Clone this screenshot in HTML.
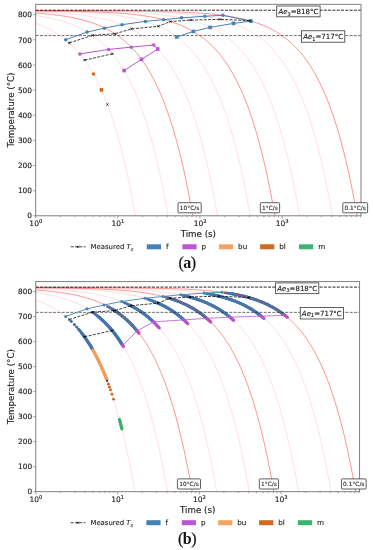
<!DOCTYPE html>
<html><head><meta charset="utf-8"><title>CCT diagram</title>
<style>html,body{margin:0;padding:0;background:#fff}svg{display:block}</style></head>
<body>
<svg width="373" height="550" viewBox="0 0 373 550" font-family='"DejaVu Sans","Liberation Sans",sans-serif'>
<rect width="373" height="550" fill="#fff"/>
<clipPath id="clipa"><rect x="35.7" y="4.3" width="325.3" height="211.5"/></clipPath>

<g clip-path="url(#clipa)">
<polyline points="35.70,23.15 36.33,23.37 36.95,23.60 37.58,23.83 38.21,24.07 38.84,24.30 39.46,24.55 40.09,24.80 40.72,25.05 41.34,25.30 41.97,25.57 42.60,25.83 43.23,26.10 43.85,26.38 44.48,26.66 45.11,26.94 45.74,27.23 46.36,27.53 46.99,27.83 47.62,28.13 48.24,28.45 48.87,28.76 49.50,29.08 50.13,29.41 50.75,29.75 51.38,30.09 52.01,30.43 52.63,30.78 53.26,31.14 53.89,31.51 54.52,31.88 55.14,32.26 55.77,32.64 56.40,33.03 57.03,33.43 57.65,33.83 58.28,34.25 58.91,34.67 59.53,35.09 60.16,35.53 60.79,35.97 61.42,36.42 62.04,36.88 62.67,37.35 63.30,37.82 63.92,38.30 64.55,38.80 65.18,39.30 65.81,39.80 66.43,40.32 67.06,40.85 67.69,41.39 68.31,41.93 68.94,42.49 69.57,43.06 70.20,43.63 70.82,44.22 71.45,44.81 72.08,45.42 72.71,46.04 73.33,46.67 73.96,47.31 74.59,47.96 75.21,48.62 75.84,49.30 76.47,49.98 77.10,50.68 77.72,51.39 78.35,52.12 78.98,52.85 79.60,53.60 80.23,54.37 80.86,55.14 81.49,55.93 82.11,56.74 82.74,57.56 83.37,58.39 84.00,59.24 84.62,60.10 85.25,60.98 85.88,61.87 86.50,62.78 87.13,63.71 87.76,64.65 88.39,65.61 89.01,66.58 89.64,67.58 90.27,68.59 90.89,69.62 91.52,70.66 92.15,71.73 92.78,72.81 93.40,73.92 94.03,75.04 94.66,76.18 95.28,77.35 95.91,78.53 96.54,79.74 97.17,80.96 97.79,82.21 98.42,83.48 99.05,84.77 99.68,86.09 100.30,87.43 100.93,88.79 101.56,90.18 102.18,91.59 102.81,93.03 103.44,94.49 104.07,95.98 104.69,97.49 105.32,99.03 105.95,100.60 106.57,102.20 107.20,103.82 107.83,105.48 108.46,107.16 109.08,108.87 109.71,110.62 110.34,112.39 110.96,114.20 111.59,116.03 112.22,117.90 112.85,119.81 113.47,121.75 114.10,123.72 114.73,125.72 115.36,127.77 115.98,129.84 116.61,131.96 117.24,134.11 117.86,136.30 118.49,138.53 119.12,140.80 119.75,143.11 120.37,145.46 121.00,147.85 121.63,150.29 122.25,152.77 122.88,155.29 123.51,157.85 124.14,160.47 124.76,163.12 125.39,165.83 126.02,168.58 126.65,171.38 127.27,174.24 127.90,177.14 128.53,180.09 129.15,183.10 129.78,186.16 130.41,189.27 131.04,192.44 131.66,195.67 132.29,198.95 132.92,202.29 133.54,205.69 134.17,209.15 134.80,212.67 135.43,216.26 136.05,219.90" fill="none" stroke="#ff4a4a" stroke-opacity="0.33" stroke-width="0.55"/>
<polyline points="35.70,15.61 36.53,15.73 37.36,15.85 38.19,15.97 39.03,16.10 39.86,16.23 40.69,16.36 41.52,16.50 42.35,16.64 43.18,16.78 44.02,16.93 44.85,17.08 45.68,17.23 46.51,17.39 47.34,17.55 48.17,17.71 49.00,17.88 49.84,18.05 50.67,18.23 51.50,18.41 52.33,18.60 53.16,18.78 53.99,18.98 54.83,19.18 55.66,19.38 56.49,19.59 57.32,19.80 58.15,20.01 58.98,20.24 59.81,20.46 60.65,20.70 61.48,20.94 62.31,21.18 63.14,21.43 63.97,21.69 64.80,21.95 65.63,22.22 66.47,22.49 67.30,22.77 68.13,23.06 68.96,23.35 69.79,23.65 70.62,23.96 71.46,24.28 72.29,24.60 73.12,24.93 73.95,25.27 74.78,25.62 75.61,25.97 76.44,26.33 77.28,26.70 78.11,27.08 78.94,27.47 79.77,27.87 80.60,28.28 81.43,28.70 82.27,29.12 83.10,29.56 83.93,30.01 84.76,30.47 85.59,30.94 86.42,31.42 87.25,31.91 88.09,32.41 88.92,32.92 89.75,33.45 90.58,33.99 91.41,34.54 92.24,35.11 93.08,35.69 93.91,36.28 94.74,36.88 95.57,37.50 96.40,38.14 97.23,38.79 98.06,39.45 98.90,40.13 99.73,40.83 100.56,41.54 101.39,42.27 102.22,43.02 103.05,43.79 103.89,44.57 104.72,45.37 105.55,46.19 106.38,47.03 107.21,47.89 108.04,48.77 108.87,49.67 109.71,50.59 110.54,51.53 111.37,52.50 112.20,53.49 113.03,54.50 113.86,55.54 114.69,56.60 115.53,57.68 116.36,58.79 117.19,59.93 118.02,61.09 118.85,62.28 119.68,63.50 120.52,64.75 121.35,66.03 122.18,67.34 123.01,68.67 123.84,70.04 124.67,71.45 125.50,72.88 126.34,74.35 127.17,75.85 128.00,77.39 128.83,78.97 129.66,80.58 130.49,82.23 131.33,83.92 132.16,85.65 132.99,87.42 133.82,89.23 134.65,91.09 135.48,92.98 136.31,94.93 137.15,96.92 137.98,98.95 138.81,101.04 139.64,103.17 140.47,105.35 141.30,107.59 142.14,109.87 142.97,112.22 143.80,114.61 144.63,117.06 145.46,119.58 146.29,122.15 147.12,124.78 147.96,127.47 148.79,130.23 149.62,133.05 150.45,135.93 151.28,138.89 152.11,141.92 152.95,145.01 153.78,148.18 154.61,151.43 155.44,154.75 156.27,158.15 157.10,161.63 157.93,165.19 158.77,168.84 159.60,172.57 160.43,176.39 161.26,180.30 162.09,184.30 162.92,188.39 163.75,192.59 164.59,196.88 165.42,201.27 166.25,205.77 167.08,210.37 167.91,215.08 168.74,219.90" fill="none" stroke="#ff4a4a" stroke-opacity="0.33" stroke-width="0.55"/>
<polyline points="35.70,13.10 36.69,13.17 37.67,13.24 38.66,13.31 39.64,13.39 40.63,13.47 41.62,13.55 42.60,13.63 43.59,13.72 44.57,13.81 45.56,13.90 46.55,13.99 47.53,14.09 48.52,14.18 49.51,14.28 50.49,14.39 51.48,14.49 52.46,14.60 53.45,14.72 54.44,14.83 55.42,14.95 56.41,15.07 57.39,15.20 58.38,15.33 59.37,15.46 60.35,15.60 61.34,15.74 62.32,15.88 63.31,16.03 64.30,16.19 65.28,16.34 66.27,16.50 67.25,16.67 68.24,16.84 69.23,17.02 70.21,17.20 71.20,17.38 72.19,17.57 73.17,17.77 74.16,17.97 75.14,18.18 76.13,18.39 77.12,18.61 78.10,18.83 79.09,19.06 80.07,19.30 81.06,19.55 82.05,19.80 83.03,20.06 84.02,20.32 85.00,20.59 85.99,20.87 86.98,21.16 87.96,21.46 88.95,21.76 89.93,22.08 90.92,22.40 91.91,22.73 92.89,23.07 93.88,23.42 94.87,23.78 95.85,24.15 96.84,24.53 97.82,24.92 98.81,25.32 99.80,25.74 100.78,26.16 101.77,26.60 102.75,27.05 103.74,27.51 104.73,27.98 105.71,28.47 106.70,28.97 107.68,29.49 108.67,30.02 109.66,30.56 110.64,31.12 111.63,31.70 112.61,32.29 113.60,32.90 114.59,33.52 115.57,34.16 116.56,34.82 117.55,35.50 118.53,36.20 119.52,36.92 120.50,37.66 121.49,38.42 122.48,39.20 123.46,40.00 124.45,40.82 125.43,41.67 126.42,42.54 127.41,43.44 128.39,44.36 129.38,45.30 130.36,46.28 131.35,47.28 132.34,48.31 133.32,49.36 134.31,50.45 135.29,51.57 136.28,52.72 137.27,53.90 138.25,55.11 139.24,56.36 140.23,57.64 141.21,58.96 142.20,60.31 143.18,61.71 144.17,63.14 145.16,64.61 146.14,66.13 147.13,67.69 148.11,69.29 149.10,70.93 150.09,72.62 151.07,74.36 152.06,76.15 153.04,77.98 154.03,79.87 155.02,81.82 156.00,83.81 156.99,85.86 157.97,87.97 158.96,90.14 159.95,92.37 160.93,94.66 161.92,97.02 162.91,99.44 163.89,101.93 164.88,104.49 165.86,107.13 166.85,109.83 167.84,112.61 168.82,115.47 169.81,118.41 170.79,121.43 171.78,124.54 172.77,127.73 173.75,131.02 174.74,134.39 175.72,137.86 176.71,141.43 177.70,145.09 178.68,148.86 179.67,152.74 180.65,156.72 181.64,160.82 182.63,165.03 183.61,169.36 184.60,173.81 185.59,178.38 186.57,183.08 187.56,187.92 188.54,192.89 189.53,198.00 190.52,203.25 191.50,208.65 192.49,214.20 193.47,219.90" fill="none" stroke="#ff3030" stroke-opacity="0.74" stroke-width="0.7"/>
<polyline points="35.70,11.84 36.84,11.88 37.98,11.92 39.12,11.97 40.26,12.01 41.40,12.06 42.54,12.11 43.68,12.16 44.83,12.21 45.97,12.26 47.11,12.31 48.25,12.37 49.39,12.43 50.53,12.49 51.67,12.55 52.81,12.61 53.95,12.68 55.09,12.75 56.23,12.82 57.37,12.89 58.51,12.97 59.65,13.04 60.79,13.12 61.93,13.21 63.08,13.29 64.22,13.38 65.36,13.47 66.50,13.56 67.64,13.66 68.78,13.76 69.92,13.86 71.06,13.97 72.20,14.08 73.34,14.19 74.48,14.31 75.62,14.43 76.76,14.56 77.90,14.69 79.04,14.82 80.19,14.96 81.33,15.10 82.47,15.24 83.61,15.40 84.75,15.55 85.89,15.71 87.03,15.88 88.17,16.05 89.31,16.23 90.45,16.41 91.59,16.60 92.73,16.80 93.87,17.00 95.01,17.21 96.15,17.42 97.29,17.65 98.44,17.88 99.58,18.11 100.72,18.36 101.86,18.61 103.00,18.87 104.14,19.14 105.28,19.42 106.42,19.71 107.56,20.00 108.70,20.31 109.84,20.62 110.98,20.95 112.12,21.29 113.26,21.63 114.40,21.99 115.55,22.36 116.69,22.75 117.83,23.14 118.97,23.55 120.11,23.97 121.25,24.41 122.39,24.86 123.53,25.32 124.67,25.80 125.81,26.29 126.95,26.80 128.09,27.33 129.23,27.87 130.37,28.43 131.51,29.01 132.65,29.61 133.80,30.23 134.94,30.87 136.08,31.53 137.22,32.21 138.36,32.91 139.50,33.64 140.64,34.39 141.78,35.16 142.92,35.96 144.06,36.78 145.20,37.63 146.34,38.51 147.48,39.42 148.62,40.36 149.76,41.32 150.91,42.32 152.05,43.35 153.19,44.42 154.33,45.52 155.47,46.65 156.61,47.82 157.75,49.03 158.89,50.28 160.03,51.57 161.17,52.91 162.31,54.28 163.45,55.70 164.59,57.17 165.73,58.68 166.87,60.24 168.01,61.85 169.16,63.52 170.30,65.24 171.44,67.02 172.58,68.85 173.72,70.74 174.86,72.70 176.00,74.71 177.14,76.80 178.28,78.95 179.42,81.17 180.56,83.46 181.70,85.83 182.84,88.28 183.98,90.80 185.12,93.41 186.27,96.10 187.41,98.88 188.55,101.74 189.69,104.71 190.83,107.76 191.97,110.92 193.11,114.18 194.25,117.55 195.39,121.02 196.53,124.61 197.67,128.31 198.81,132.14 199.95,136.09 201.09,140.16 202.23,144.37 203.37,148.72 204.52,153.21 205.66,157.84 206.80,162.63 207.94,167.56 209.08,172.66 210.22,177.93 211.36,183.37 212.50,188.98 213.64,194.78 214.78,200.76 215.92,206.94 217.06,213.32 218.20,219.90" fill="none" stroke="#ff4a4a" stroke-opacity="0.33" stroke-width="0.55"/>
<polyline points="35.70,11.09 37.04,11.11 38.39,11.13 39.73,11.15 41.08,11.17 42.42,11.19 43.77,11.21 45.11,11.24 46.46,11.26 47.80,11.29 49.15,11.32 50.49,11.34 51.84,11.37 53.18,11.40 54.53,11.44 55.87,11.47 57.22,11.50 58.56,11.54 59.91,11.57 61.25,11.61 62.60,11.65 63.94,11.69 65.29,11.74 66.63,11.78 67.98,11.83 69.32,11.87 70.67,11.92 72.01,11.97 73.36,12.03 74.70,12.08 76.05,12.14 77.39,12.20 78.74,12.26 80.08,12.33 81.43,12.39 82.77,12.46 84.12,12.54 85.46,12.61 86.81,12.69 88.15,12.77 89.50,12.85 90.84,12.94 92.19,13.03 93.53,13.13 94.88,13.22 96.22,13.33 97.57,13.43 98.91,13.54 100.26,13.65 101.60,13.77 102.95,13.89 104.29,14.02 105.64,14.15 106.98,14.29 108.33,14.43 109.67,14.58 111.02,14.73 112.36,14.89 113.71,15.06 115.05,15.23 116.40,15.41 117.74,15.60 119.09,15.79 120.43,15.99 121.78,16.20 123.12,16.41 124.47,16.63 125.81,16.87 127.16,17.11 128.50,17.36 129.85,17.62 131.19,17.89 132.54,18.17 133.88,18.46 135.23,18.76 136.57,19.08 137.92,19.41 139.26,19.74 140.61,20.10 141.95,20.46 143.30,20.84 144.64,21.24 145.99,21.64 147.33,22.07 148.68,22.51 150.02,22.97 151.37,23.44 152.71,23.94 154.06,24.45 155.40,24.98 156.75,25.54 158.09,26.11 159.44,26.71 160.78,27.33 162.13,27.97 163.47,28.64 164.82,29.33 166.16,30.05 167.51,30.80 168.85,31.58 170.20,32.39 171.54,33.22 172.89,34.09 174.23,35.00 175.58,35.93 176.92,36.91 178.27,37.92 179.61,38.97 180.96,40.06 182.30,41.19 183.65,42.37 184.99,43.59 186.34,44.86 187.68,46.17 189.03,47.54 190.37,48.96 191.72,50.43 193.06,51.97 194.41,53.56 195.75,55.21 197.10,56.92 198.44,58.70 199.79,60.55 201.13,62.47 202.48,64.46 203.82,66.53 205.17,68.68 206.51,70.91 207.86,73.23 209.20,75.64 210.55,78.14 211.89,80.73 213.24,83.43 214.58,86.23 215.93,89.13 217.27,92.15 218.61,95.28 219.96,98.54 221.30,101.92 222.65,105.43 223.99,109.07 225.34,112.85 226.68,116.78 228.03,120.86 229.37,125.10 230.72,129.50 232.06,134.07 233.41,138.81 234.75,143.74 236.10,148.85 237.44,154.16 238.79,159.68 240.13,165.41 241.48,171.35 242.82,177.53 244.17,183.94 245.51,190.60 246.86,197.52 248.20,204.70 249.55,212.16 250.89,219.90" fill="none" stroke="#ff4a4a" stroke-opacity="0.33" stroke-width="0.55"/>
<polyline points="35.70,10.83 37.20,10.85 38.70,10.86 40.20,10.87 41.70,10.88 43.20,10.89 44.70,10.91 46.20,10.92 47.70,10.94 49.20,10.95 50.70,10.97 52.19,10.98 53.69,11.00 55.19,11.02 56.69,11.04 58.19,11.06 59.69,11.08 61.19,11.10 62.69,11.12 64.19,11.14 65.69,11.17 67.19,11.19 68.69,11.22 70.19,11.24 71.69,11.27 73.19,11.30 74.69,11.33 76.19,11.37 77.69,11.40 79.19,11.43 80.69,11.47 82.19,11.51 83.68,11.55 85.18,11.59 86.68,11.63 88.18,11.68 89.68,11.72 91.18,11.77 92.68,11.82 94.18,11.88 95.68,11.93 97.18,11.99 98.68,12.05 100.18,12.12 101.68,12.18 103.18,12.25 104.68,12.32 106.18,12.40 107.68,12.47 109.18,12.55 110.68,12.64 112.18,12.73 113.68,12.82 115.17,12.92 116.67,13.02 118.17,13.12 119.67,13.23 121.17,13.34 122.67,13.46 124.17,13.58 125.67,13.71 127.17,13.85 128.67,13.99 130.17,14.13 131.67,14.29 133.17,14.44 134.67,14.61 136.17,14.78 137.67,14.96 139.17,15.15 140.67,15.35 142.17,15.55 143.67,15.77 145.17,15.99 146.66,16.22 148.16,16.46 149.66,16.71 151.16,16.98 152.66,17.25 154.16,17.54 155.66,17.84 157.16,18.15 158.66,18.47 160.16,18.81 161.66,19.16 163.16,19.53 164.66,19.92 166.16,20.32 167.66,20.74 169.16,21.17 170.66,21.63 172.16,22.10 173.66,22.59 175.16,23.11 176.66,23.65 178.15,24.21 179.65,24.79 181.15,25.40 182.65,26.04 184.15,26.70 185.65,27.39 187.15,28.12 188.65,28.87 190.15,29.65 191.65,30.47 193.15,31.33 194.65,32.22 196.15,33.15 197.65,34.11 199.15,35.12 200.65,36.18 202.15,37.28 203.65,38.42 205.15,39.62 206.65,40.86 208.15,42.16 209.64,43.52 211.14,44.93 212.64,46.41 214.14,47.94 215.64,49.55 217.14,51.22 218.64,52.97 220.14,54.78 221.64,56.68 223.14,58.66 224.64,60.72 226.14,62.88 227.64,65.12 229.14,67.46 230.64,69.90 232.14,72.45 233.64,75.11 235.14,77.88 236.64,80.76 238.14,83.78 239.64,86.92 241.13,90.20 242.63,93.61 244.13,97.18 245.63,100.89 247.13,104.77 248.63,108.81 250.13,113.03 251.63,117.43 253.13,122.02 254.63,126.80 256.13,131.79 257.63,136.99 259.13,142.42 260.63,148.08 262.13,153.98 263.63,160.13 265.13,166.55 266.63,173.25 268.13,180.23 269.63,187.51 271.13,195.11 272.62,203.03 274.12,211.29 275.62,219.90" fill="none" stroke="#ff3030" stroke-opacity="0.74" stroke-width="0.7"/>
<polyline points="35.70,10.71 37.35,10.72 39.01,10.72 40.66,10.73 42.32,10.73 43.97,10.74 45.62,10.75 47.28,10.76 48.93,10.77 50.59,10.77 52.24,10.78 53.89,10.79 55.55,10.80 57.20,10.81 58.86,10.82 60.51,10.84 62.17,10.85 63.82,10.86 65.47,10.87 67.13,10.89 68.78,10.90 70.44,10.92 72.09,10.93 73.74,10.95 75.40,10.97 77.05,10.98 78.71,11.00 80.36,11.02 82.01,11.04 83.67,11.07 85.32,11.09 86.98,11.11 88.63,11.14 90.28,11.16 91.94,11.19 93.59,11.22 95.25,11.25 96.90,11.28 98.56,11.32 100.21,11.35 101.86,11.39 103.52,11.42 105.17,11.46 106.83,11.51 108.48,11.55 110.13,11.60 111.79,11.64 113.44,11.69 115.10,11.75 116.75,11.80 118.40,11.86 120.06,11.92 121.71,11.98 123.37,12.05 125.02,12.12 126.67,12.19 128.33,12.27 129.98,12.35 131.64,12.43 133.29,12.52 134.94,12.61 136.60,12.71 138.25,12.81 139.91,12.92 141.56,13.03 143.22,13.14 144.87,13.26 146.52,13.39 148.18,13.52 149.83,13.66 151.49,13.81 153.14,13.96 154.79,14.12 156.45,14.29 158.10,14.47 159.76,14.65 161.41,14.84 163.06,15.05 164.72,15.26 166.37,15.48 168.03,15.71 169.68,15.96 171.33,16.21 172.99,16.48 174.64,16.76 176.30,17.05 177.95,17.36 179.61,17.68 181.26,18.02 182.91,18.37 184.57,18.74 186.22,19.12 187.88,19.53 189.53,19.95 191.18,20.40 192.84,20.86 194.49,21.35 196.15,21.86 197.80,22.40 199.45,22.96 201.11,23.55 202.76,24.16 204.42,24.81 206.07,25.48 207.72,26.19 209.38,26.93 211.03,27.70 212.69,28.52 214.34,29.37 216.00,30.26 217.65,31.19 219.30,32.17 220.96,33.20 222.61,34.27 224.27,35.39 225.92,36.57 227.57,37.80 229.23,39.09 230.88,40.45 232.54,41.86 234.19,43.35 235.84,44.90 237.50,46.53 239.15,48.24 240.81,50.03 242.46,51.90 244.11,53.86 245.77,55.91 247.42,58.06 249.08,60.31 250.73,62.67 252.38,65.15 254.04,67.74 255.69,70.45 257.35,73.29 259.00,76.26 260.66,79.38 262.31,82.65 263.96,86.07 265.62,89.65 267.27,93.40 268.93,97.33 270.58,101.45 272.23,105.76 273.89,110.27 275.54,115.00 277.20,119.96 278.85,125.15 280.50,130.59 282.16,136.28 283.81,142.25 285.47,148.49 287.12,155.04 288.77,161.89 290.43,169.07 292.08,176.59 293.74,184.47 295.39,192.72 297.05,201.37 298.70,210.42 300.35,219.90" fill="none" stroke="#ff4a4a" stroke-opacity="0.33" stroke-width="0.55"/>
<polyline points="35.70,10.63 37.56,10.64 39.42,10.64 41.28,10.64 43.13,10.65 44.99,10.65 46.85,10.65 48.71,10.66 50.57,10.66 52.43,10.66 54.28,10.67 56.14,10.67 58.00,10.68 59.86,10.68 61.72,10.69 63.58,10.69 65.43,10.70 67.29,10.71 69.15,10.71 71.01,10.72 72.87,10.73 74.73,10.73 76.58,10.74 78.44,10.75 80.30,10.76 82.16,10.77 84.02,10.78 85.88,10.79 87.74,10.80 89.59,10.81 91.45,10.82 93.31,10.84 95.17,10.85 97.03,10.86 98.89,10.88 100.74,10.89 102.60,10.91 104.46,10.93 106.32,10.95 108.18,10.97 110.04,10.99 111.89,11.01 113.75,11.03 115.61,11.06 117.47,11.08 119.33,11.11 121.19,11.14 123.04,11.16 124.90,11.20 126.76,11.23 128.62,11.26 130.48,11.30 132.34,11.34 134.20,11.38 136.05,11.42 137.91,11.47 139.77,11.51 141.63,11.56 143.49,11.61 145.35,11.67 147.20,11.73 149.06,11.79 150.92,11.85 152.78,11.92 154.64,11.99 156.50,12.07 158.35,12.15 160.21,12.23 162.07,12.32 163.93,12.41 165.79,12.51 167.65,12.61 169.50,12.72 171.36,12.84 173.22,12.96 175.08,13.08 176.94,13.22 178.80,13.36 180.66,13.51 182.51,13.66 184.37,13.83 186.23,14.00 188.09,14.18 189.95,14.38 191.81,14.58 193.66,14.79 195.52,15.02 197.38,15.25 199.24,15.50 201.10,15.77 202.96,16.04 204.81,16.34 206.67,16.64 208.53,16.97 210.39,17.31 212.25,17.67 214.11,18.05 215.96,18.45 217.82,18.87 219.68,19.31 221.54,19.78 223.40,20.27 225.26,20.79 227.12,21.33 228.97,21.91 230.83,22.51 232.69,23.15 234.55,23.82 236.41,24.53 238.27,25.28 240.12,26.06 241.98,26.89 243.84,27.76 245.70,28.68 247.56,29.65 249.42,30.67 251.27,31.74 253.13,32.87 254.99,34.06 256.85,35.32 258.71,36.64 260.57,38.03 262.42,39.50 264.28,41.05 266.14,42.68 268.00,44.39 269.86,46.20 271.72,48.11 273.58,50.11 275.43,52.23 277.29,54.45 279.15,56.80 281.01,59.27 282.87,61.87 284.73,64.61 286.58,67.50 288.44,70.55 290.30,73.75 292.16,77.13 294.02,80.69 295.88,84.44 297.73,88.39 299.59,92.55 301.45,96.93 303.31,101.55 305.17,106.41 307.03,111.53 308.88,116.93 310.74,122.62 312.60,128.61 314.46,134.92 316.32,141.57 318.18,148.57 320.04,155.95 321.89,163.72 323.75,171.91 325.61,180.53 327.47,189.62 329.33,199.20 331.19,209.28 333.04,219.90" fill="none" stroke="#ff4a4a" stroke-opacity="0.33" stroke-width="0.55"/>
<polyline points="35.70,10.61 37.71,10.61 39.73,10.61 41.74,10.61 43.75,10.61 45.76,10.62 47.78,10.62 49.79,10.62 51.80,10.62 53.82,10.63 55.83,10.63 57.84,10.63 59.86,10.63 61.87,10.64 63.88,10.64 65.89,10.64 67.91,10.65 69.92,10.65 71.93,10.65 73.95,10.66 75.96,10.66 77.97,10.67 79.99,10.67 82.00,10.68 84.01,10.68 86.02,10.69 88.04,10.69 90.05,10.70 92.06,10.71 94.08,10.71 96.09,10.72 98.10,10.73 100.11,10.74 102.13,10.75 104.14,10.75 106.15,10.76 108.17,10.78 110.18,10.79 112.19,10.80 114.21,10.81 116.22,10.82 118.23,10.84 120.24,10.85 122.26,10.87 124.27,10.88 126.28,10.90 128.30,10.92 130.31,10.94 132.32,10.96 134.34,10.98 136.35,11.01 138.36,11.03 140.37,11.06 142.39,11.08 144.40,11.11 146.41,11.14 148.43,11.18 150.44,11.21 152.45,11.25 154.46,11.28 156.48,11.33 158.49,11.37 160.50,11.41 162.52,11.46 164.53,11.51 166.54,11.57 168.56,11.62 170.57,11.68 172.58,11.75 174.59,11.82 176.61,11.89 178.62,11.96 180.63,12.04 182.65,12.13 184.66,12.22 186.67,12.31 188.69,12.41 190.70,12.52 192.71,12.63 194.72,12.75 196.74,12.88 198.75,13.01 200.76,13.15 202.78,13.30 204.79,13.46 206.80,13.62 208.81,13.80 210.83,13.99 212.84,14.19 214.85,14.39 216.87,14.62 218.88,14.85 220.89,15.10 222.91,15.36 224.92,15.64 226.93,15.93 228.94,16.24 230.96,16.57 232.97,16.92 234.98,17.28 237.00,17.67 239.01,18.08 241.02,18.52 243.03,18.98 245.05,19.47 247.06,19.98 249.07,20.53 251.09,21.11 253.10,21.72 255.11,22.36 257.13,23.05 259.14,23.77 261.15,24.54 263.16,25.35 265.18,26.20 267.19,27.11 269.20,28.07 271.22,29.08 273.23,30.16 275.24,31.29 277.26,32.49 279.27,33.77 281.28,35.11 283.29,36.54 285.31,38.04 287.32,39.64 289.33,41.32 291.35,43.11 293.36,44.99 295.37,46.99 297.38,49.11 299.40,51.34 301.41,53.71 303.42,56.21 305.44,58.86 307.45,61.66 309.46,64.63 311.48,67.76 313.49,71.08 315.50,74.59 317.51,78.31 319.53,82.24 321.54,86.40 323.55,90.80 325.57,95.45 327.58,100.38 329.59,105.59 331.61,111.11 333.62,116.94 335.63,123.11 337.64,129.65 339.66,136.56 341.67,143.87 343.68,151.61 345.70,159.79 347.71,168.45 349.72,177.62 351.73,187.31 353.75,197.57 355.76,208.42 357.77,219.90" fill="none" stroke="#ff3030" stroke-opacity="0.74" stroke-width="0.7"/>
<line x1="35.7" x2="361.0" y1="10.21" y2="10.21" stroke="#111" stroke-width="0.9" stroke-dasharray="3.0 1.3"/>
<line x1="35.7" x2="361.0" y1="35.59" y2="35.59" stroke="#333" stroke-width="0.7" stroke-dasharray="3.0 1.3"/>
</g>
<polyline points="65.70,39.74 87.10,32.07 104.30,28.18 122.10,24.66 145.40,21.39 163.60,19.63 181.50,17.87 204.80,16.24 222.90,15.36 251.00,21.14 233.50,23.40 210.10,27.42 193.30,31.44 176.70,36.97" fill="none" stroke="#4682b4" stroke-width="1.0" stroke-linejoin="round"/>
<circle cx="65.70" cy="39.74" r="1.75" fill="#4682b4"/>
<circle cx="87.10" cy="32.07" r="1.75" fill="#4682b4"/>
<circle cx="104.30" cy="28.18" r="1.75" fill="#4682b4"/>
<circle cx="122.10" cy="24.66" r="1.75" fill="#4682b4"/>
<circle cx="145.40" cy="21.39" r="1.75" fill="#4682b4"/>
<circle cx="163.60" cy="19.63" r="1.75" fill="#4682b4"/>
<circle cx="181.50" cy="17.87" r="1.75" fill="#4682b4"/>
<circle cx="204.80" cy="16.24" r="1.75" fill="#4682b4"/>
<circle cx="222.90" cy="15.36" r="1.75" fill="#4682b4"/>
<rect x="249.20" y="19.34" width="3.6" height="3.6" fill="#4682b4"/>
<rect x="231.70" y="21.60" width="3.6" height="3.6" fill="#4682b4"/>
<rect x="208.30" y="25.62" width="3.6" height="3.6" fill="#4682b4"/>
<rect x="191.50" y="29.64" width="3.6" height="3.6" fill="#4682b4"/>
<rect x="174.90" y="35.17" width="3.6" height="3.6" fill="#4682b4"/>
<polyline points="79.88,53.94 108.64,49.41 131.23,47.15 153.81,45.02 157.75,49.04 141.49,59.34 124.13,70.53" fill="none" stroke="#ba55d3" stroke-width="1.0" stroke-linejoin="round"/>
<circle cx="79.88" cy="53.94" r="1.75" fill="#ba55d3"/>
<circle cx="108.64" cy="49.41" r="1.75" fill="#ba55d3"/>
<circle cx="131.23" cy="47.15" r="1.75" fill="#ba55d3"/>
<circle cx="153.81" cy="45.02" r="1.75" fill="#ba55d3"/>
<rect x="155.95" y="47.24" width="3.6" height="3.6" fill="#ba55d3"/>
<rect x="139.69" y="57.54" width="3.6" height="3.6" fill="#ba55d3"/>
<rect x="122.33" y="68.73" width="3.6" height="3.6" fill="#ba55d3"/>
<circle cx="93.48" cy="74.05" r="1.8" fill="#d2691e"/>
<rect x="99.62" y="88.08" width="3.6" height="3.6" fill="#d2691e"/>
<polyline points="69.20,42.88 92.70,35.34 114.80,33.83 131.50,28.93 158.40,26.29 170.30,21.52 190.60,20.13 220.10,19.38 250.10,20.64" fill="none" stroke="#111" stroke-width="0.8" stroke-dasharray="3.0 1.3" stroke-linejoin="round"/>
<polyline points="84.62,60.10 112.47,53.81" fill="none" stroke="#111" stroke-width="0.8" stroke-dasharray="3.0 1.3" stroke-linejoin="round"/>
<path d="M68.15 41.83L70.25 43.93M68.15 43.93L70.25 41.83" stroke="#000" stroke-width="0.8" fill="none"/>
<path d="M91.65 34.29L93.75 36.39M91.65 36.39L93.75 34.29" stroke="#000" stroke-width="0.8" fill="none"/>
<path d="M113.75 32.78L115.85 34.88M113.75 34.88L115.85 32.78" stroke="#000" stroke-width="0.8" fill="none"/>
<path d="M130.45 27.88L132.55 29.98M130.45 29.98L132.55 27.88" stroke="#000" stroke-width="0.8" fill="none"/>
<path d="M157.35 25.24L159.45 27.34M157.35 27.34L159.45 25.24" stroke="#000" stroke-width="0.8" fill="none"/>
<path d="M169.25 20.47L171.35 22.57M169.25 22.57L171.35 20.47" stroke="#000" stroke-width="0.8" fill="none"/>
<path d="M189.55 19.08L191.65 21.18M189.55 21.18L191.65 19.08" stroke="#000" stroke-width="0.8" fill="none"/>
<path d="M219.05 18.33L221.15 20.43M219.05 20.43L221.15 18.33" stroke="#000" stroke-width="0.8" fill="none"/>
<path d="M249.05 19.59L251.15 21.69M249.05 21.69L251.15 19.59" stroke="#000" stroke-width="0.8" fill="none"/>
<path d="M83.57 59.05L85.67 61.15M83.57 61.15L85.67 59.05" stroke="#000" stroke-width="0.8" fill="none"/>
<path d="M111.42 52.76L113.52 54.86M111.42 54.86L113.52 52.76" stroke="#000" stroke-width="0.8" fill="none"/>
<path d="M106.39 103.41L108.49 105.51M106.39 105.51L108.49 103.41" stroke="#000" stroke-width="0.8" fill="none"/>
<rect x="35.7" y="4.3" width="325.3" height="211.5" fill="none" stroke="#727272" stroke-width="0.9"/>
<line x1="32.900000000000006" x2="35.7" y1="215.80" y2="215.80" stroke="#555" stroke-width="0.5"/>
<text x="32.00" y="218.45" text-anchor="end" font-size="7.4" fill="#222" stroke="#222" stroke-width="0.15">0</text>
<line x1="32.900000000000006" x2="35.7" y1="190.67" y2="190.67" stroke="#555" stroke-width="0.5"/>
<text x="32.00" y="193.32" text-anchor="end" font-size="7.4" fill="#222" stroke="#222" stroke-width="0.15">100</text>
<line x1="32.900000000000006" x2="35.7" y1="165.53" y2="165.53" stroke="#555" stroke-width="0.5"/>
<text x="32.00" y="168.18" text-anchor="end" font-size="7.4" fill="#222" stroke="#222" stroke-width="0.15">200</text>
<line x1="32.900000000000006" x2="35.7" y1="140.40" y2="140.40" stroke="#555" stroke-width="0.5"/>
<text x="32.00" y="143.05" text-anchor="end" font-size="7.4" fill="#222" stroke="#222" stroke-width="0.15">300</text>
<line x1="32.900000000000006" x2="35.7" y1="115.27" y2="115.27" stroke="#555" stroke-width="0.5"/>
<text x="32.00" y="117.92" text-anchor="end" font-size="7.4" fill="#222" stroke="#222" stroke-width="0.15">400</text>
<line x1="32.900000000000006" x2="35.7" y1="90.13" y2="90.13" stroke="#555" stroke-width="0.5"/>
<text x="32.00" y="92.78" text-anchor="end" font-size="7.4" fill="#222" stroke="#222" stroke-width="0.15">500</text>
<line x1="32.900000000000006" x2="35.7" y1="65.00" y2="65.00" stroke="#555" stroke-width="0.5"/>
<text x="32.00" y="67.65" text-anchor="end" font-size="7.4" fill="#222" stroke="#222" stroke-width="0.15">600</text>
<line x1="32.900000000000006" x2="35.7" y1="39.86" y2="39.86" stroke="#555" stroke-width="0.5"/>
<text x="32.00" y="42.51" text-anchor="end" font-size="7.4" fill="#222" stroke="#222" stroke-width="0.15">700</text>
<line x1="32.900000000000006" x2="35.7" y1="14.73" y2="14.73" stroke="#555" stroke-width="0.5"/>
<text x="32.00" y="17.38" text-anchor="end" font-size="7.4" fill="#222" stroke="#222" stroke-width="0.15">800</text>
<line x1="35.70" x2="35.70" y1="215.8" y2="218.60000000000002" stroke="#555" stroke-width="0.5"/>
<text x="35.80" y="226.00" text-anchor="middle" font-size="7.5" fill="#222" stroke="#222" stroke-width="0.15">10<tspan dy="-2.9" font-size="5.2">0</tspan></text>
<line x1="60.43" x2="60.43" y1="215.8" y2="217.3" stroke="#555" stroke-width="0.45"/>
<line x1="74.90" x2="74.90" y1="215.8" y2="217.3" stroke="#555" stroke-width="0.45"/>
<line x1="85.16" x2="85.16" y1="215.8" y2="217.3" stroke="#555" stroke-width="0.45"/>
<line x1="93.12" x2="93.12" y1="215.8" y2="217.3" stroke="#555" stroke-width="0.45"/>
<line x1="99.63" x2="99.63" y1="215.8" y2="217.3" stroke="#555" stroke-width="0.45"/>
<line x1="105.12" x2="105.12" y1="215.8" y2="217.3" stroke="#555" stroke-width="0.45"/>
<line x1="109.89" x2="109.89" y1="215.8" y2="217.3" stroke="#555" stroke-width="0.45"/>
<line x1="114.09" x2="114.09" y1="215.8" y2="217.3" stroke="#555" stroke-width="0.45"/>
<line x1="117.85" x2="117.85" y1="215.8" y2="218.60000000000002" stroke="#555" stroke-width="0.5"/>
<text x="117.95" y="226.00" text-anchor="middle" font-size="7.5" fill="#222" stroke="#222" stroke-width="0.15">10<tspan dy="-2.9" font-size="5.2">1</tspan></text>
<line x1="142.58" x2="142.58" y1="215.8" y2="217.3" stroke="#555" stroke-width="0.45"/>
<line x1="157.05" x2="157.05" y1="215.8" y2="217.3" stroke="#555" stroke-width="0.45"/>
<line x1="167.31" x2="167.31" y1="215.8" y2="217.3" stroke="#555" stroke-width="0.45"/>
<line x1="175.27" x2="175.27" y1="215.8" y2="217.3" stroke="#555" stroke-width="0.45"/>
<line x1="181.78" x2="181.78" y1="215.8" y2="217.3" stroke="#555" stroke-width="0.45"/>
<line x1="187.27" x2="187.27" y1="215.8" y2="217.3" stroke="#555" stroke-width="0.45"/>
<line x1="192.04" x2="192.04" y1="215.8" y2="217.3" stroke="#555" stroke-width="0.45"/>
<line x1="196.24" x2="196.24" y1="215.8" y2="217.3" stroke="#555" stroke-width="0.45"/>
<line x1="200.00" x2="200.00" y1="215.8" y2="218.60000000000002" stroke="#555" stroke-width="0.5"/>
<text x="200.10" y="226.00" text-anchor="middle" font-size="7.5" fill="#222" stroke="#222" stroke-width="0.15">10<tspan dy="-2.9" font-size="5.2">2</tspan></text>
<line x1="224.73" x2="224.73" y1="215.8" y2="217.3" stroke="#555" stroke-width="0.45"/>
<line x1="239.20" x2="239.20" y1="215.8" y2="217.3" stroke="#555" stroke-width="0.45"/>
<line x1="249.46" x2="249.46" y1="215.8" y2="217.3" stroke="#555" stroke-width="0.45"/>
<line x1="257.42" x2="257.42" y1="215.8" y2="217.3" stroke="#555" stroke-width="0.45"/>
<line x1="263.93" x2="263.93" y1="215.8" y2="217.3" stroke="#555" stroke-width="0.45"/>
<line x1="269.42" x2="269.42" y1="215.8" y2="217.3" stroke="#555" stroke-width="0.45"/>
<line x1="274.19" x2="274.19" y1="215.8" y2="217.3" stroke="#555" stroke-width="0.45"/>
<line x1="278.39" x2="278.39" y1="215.8" y2="217.3" stroke="#555" stroke-width="0.45"/>
<line x1="282.15" x2="282.15" y1="215.8" y2="218.60000000000002" stroke="#555" stroke-width="0.5"/>
<text x="282.25" y="226.00" text-anchor="middle" font-size="7.5" fill="#222" stroke="#222" stroke-width="0.15">10<tspan dy="-2.9" font-size="5.2">3</tspan></text>
<line x1="306.88" x2="306.88" y1="215.8" y2="217.3" stroke="#555" stroke-width="0.45"/>
<line x1="321.35" x2="321.35" y1="215.8" y2="217.3" stroke="#555" stroke-width="0.45"/>
<line x1="331.61" x2="331.61" y1="215.8" y2="217.3" stroke="#555" stroke-width="0.45"/>
<line x1="339.57" x2="339.57" y1="215.8" y2="217.3" stroke="#555" stroke-width="0.45"/>
<line x1="346.08" x2="346.08" y1="215.8" y2="217.3" stroke="#555" stroke-width="0.45"/>
<line x1="351.57" x2="351.57" y1="215.8" y2="217.3" stroke="#555" stroke-width="0.45"/>
<line x1="356.34" x2="356.34" y1="215.8" y2="217.3" stroke="#555" stroke-width="0.45"/>
<line x1="360.54" x2="360.54" y1="215.8" y2="217.3" stroke="#555" stroke-width="0.45"/>
<text x="198.35" y="237.20" text-anchor="middle" font-size="8.7" fill="#222" stroke="#222" stroke-width="0.15">Time (s)</text>
<text transform="translate(13.6 110.05) rotate(-90)" text-anchor="middle" font-size="8.7" fill="#222" stroke="#222" stroke-width="0.15">Temperature (°C)</text>
<rect x="276.7" y="6.006417112299476" width="43.40" height="10.80" rx="0" fill="#fff" stroke="#2a2a2a" stroke-width="0.75"/>
<text x="298.40" y="13.93" text-anchor="middle" font-size="7.0" fill="#111" stroke="#111" stroke-width="0.1"><tspan font-style="italic">Ae</tspan><tspan dy="1.6" font-size="5">3</tspan><tspan dy="-1.6">=818°C</tspan></text>
<rect x="301.4" y="30.79144385026738" width="43.40" height="11.40" rx="0" fill="#fff" stroke="#2a2a2a" stroke-width="0.75"/>
<text x="323.10" y="39.01" text-anchor="middle" font-size="7.0" fill="#111" stroke="#111" stroke-width="0.1"><tspan font-style="italic">Ae</tspan><tspan dy="1.6" font-size="5">1</tspan><tspan dy="-1.6">=717°C</tspan></text>
<rect x="178.0" y="202.70000000000002" width="23.20" height="10.10" rx="0.8" fill="#fff" stroke="#2a2a2a" stroke-width="0.75"/>
<text x="189.60" y="209.86" text-anchor="middle" font-size="5.85" fill="#111" stroke="#111" stroke-width="0.08">10°C/s</text>
<rect x="260.3" y="202.70000000000002" width="19.30" height="10.10" rx="0.8" fill="#fff" stroke="#2a2a2a" stroke-width="0.75"/>
<text x="269.95" y="209.86" text-anchor="middle" font-size="5.85" fill="#111" stroke="#111" stroke-width="0.08">1°C/s</text>
<rect x="342.8" y="202.70000000000002" width="24.80" height="10.10" rx="0.8" fill="#fff" stroke="#2a2a2a" stroke-width="0.75"/>
<text x="355.20" y="209.86" text-anchor="middle" font-size="5.85" fill="#111" stroke="#111" stroke-width="0.08">0.1°C/s</text>
<line x1="70.7" x2="85.5" y1="246.8" y2="246.8" stroke="#111" stroke-width="0.8" stroke-dasharray="3.0 1.3"/>
<path d="M77.05 245.75L79.15 247.85M77.05 247.85L79.15 245.75" stroke="#000" stroke-width="0.8" fill="none"/>
<text x="90.6" y="249.40" font-size="6.9" fill="#222" stroke="#222" stroke-width="0.12">Measured <tspan font-style="italic">T</tspan><tspan dy="1.5" font-size="5" font-style="italic">s</tspan></text>
<rect x="146.8" y="244.30" width="14.2" height="5" fill="#4682b4"/>
<text x="166.00" y="249.40" font-size="7.2" fill="#222" stroke="#222" stroke-width="0.12">f</text>
<rect x="182.4" y="244.30" width="14.2" height="5" fill="#ba55d3"/>
<text x="201.60" y="249.40" font-size="7.2" fill="#222" stroke="#222" stroke-width="0.12">p</text>
<rect x="218.9" y="244.30" width="14.2" height="5" fill="#f4a460"/>
<text x="238.10" y="249.40" font-size="7.2" fill="#222" stroke="#222" stroke-width="0.12">bu</text>
<rect x="260.1" y="244.30" width="14.2" height="5" fill="#d2691e"/>
<text x="279.30" y="249.40" font-size="7.2" fill="#222" stroke="#222" stroke-width="0.12">bl</text>
<rect x="299.0" y="244.30" width="14.2" height="5" fill="#3cb371"/>
<text x="318.20" y="249.40" font-size="7.2" fill="#222" stroke="#222" stroke-width="0.12">m</text>
<text x="187.0" y="268.40" text-anchor="middle" font-family="'Liberation Serif','DejaVu Serif',serif" font-weight="bold" font-size="16" letter-spacing="-0.55" fill="#151515"><tspan font-weight="normal" stroke="#151515" stroke-width="0.25">(</tspan>a<tspan font-weight="normal" stroke="#151515" stroke-width="0.25">)</tspan></text>
<clipPath id="clipb"><rect x="35.8" y="281.6" width="323.8" height="210.09999999999997"/></clipPath>
<circle cx="71.20" cy="321.37" r="1.55" fill="#3e79b0"/>
<circle cx="74.45" cy="324.62" r="1.55" fill="#3e79b0"/>
<circle cx="76.65" cy="327.00" r="1.55" fill="#3e79b0"/>
<circle cx="78.41" cy="329.00" r="1.55" fill="#3e79b0"/>
<circle cx="79.15" cy="329.88" r="1.55" fill="#3e79b0"/>
<circle cx="80.17" cy="331.11" r="1.55" fill="#3e79b0"/>
<circle cx="80.98" cy="332.11" r="1.55" fill="#3e79b0"/>
<circle cx="81.61" cy="332.92" r="1.55" fill="#3e79b0"/>
<circle cx="82.11" cy="333.57" r="1.55" fill="#3e79b0"/>
<circle cx="82.51" cy="334.09" r="1.55" fill="#3e79b0"/>
<circle cx="82.88" cy="334.57" r="1.55" fill="#3e79b0"/>
<circle cx="83.24" cy="335.05" r="1.55" fill="#3e79b0"/>
<circle cx="83.60" cy="335.54" r="1.55" fill="#3e79b0"/>
<circle cx="83.96" cy="336.02" r="1.55" fill="#3e79b0"/>
<circle cx="84.31" cy="336.51" r="1.55" fill="#3e79b0"/>
<circle cx="84.67" cy="337.00" r="1.55" fill="#3e79b0"/>
<circle cx="85.02" cy="337.49" r="1.55" fill="#3e79b0"/>
<circle cx="85.36" cy="337.98" r="1.55" fill="#3e79b0"/>
<circle cx="85.71" cy="338.48" r="1.55" fill="#3e79b0"/>
<circle cx="86.05" cy="338.97" r="1.55" fill="#3e79b0"/>
<circle cx="86.40" cy="339.47" r="1.55" fill="#3e79b0"/>
<circle cx="86.73" cy="339.97" r="1.55" fill="#3e79b0"/>
<circle cx="87.07" cy="340.47" r="1.55" fill="#3e79b0"/>
<circle cx="87.40" cy="340.97" r="1.55" fill="#3e79b0"/>
<circle cx="87.74" cy="341.47" r="1.55" fill="#3e79b0"/>
<circle cx="88.07" cy="341.98" r="1.55" fill="#3e79b0"/>
<circle cx="88.40" cy="342.48" r="1.55" fill="#3e79b0"/>
<circle cx="88.72" cy="342.99" r="1.55" fill="#3e79b0"/>
<circle cx="89.04" cy="343.50" r="1.55" fill="#3e79b0"/>
<circle cx="89.37" cy="344.01" r="1.55" fill="#3e79b0"/>
<circle cx="89.69" cy="344.52" r="1.55" fill="#3e79b0"/>
<circle cx="90.00" cy="345.03" r="1.55" fill="#3e79b0"/>
<circle cx="90.32" cy="345.54" r="1.55" fill="#3e79b0"/>
<circle cx="90.63" cy="346.06" r="1.55" fill="#3e79b0"/>
<circle cx="90.94" cy="346.58" r="1.55" fill="#3e79b0"/>
<circle cx="91.25" cy="347.09" r="1.55" fill="#3e79b0"/>
<circle cx="91.56" cy="347.61" r="1.55" fill="#3e79b0"/>
<circle cx="91.87" cy="348.13" r="1.55" fill="#3e79b0"/>
<circle cx="92.17" cy="348.65" r="1.55" fill="#3e79b0"/>
<circle cx="92.47" cy="349.18" r="1.55" fill="#3e79b0"/>
<circle cx="92.77" cy="349.70" r="1.55" fill="#3e79b0"/>
<circle cx="93.02" cy="350.14" r="1.55" fill="#f4a460"/>
<circle cx="93.37" cy="350.75" r="1.55" fill="#f4a460"/>
<circle cx="93.66" cy="351.28" r="1.55" fill="#f4a460"/>
<circle cx="93.96" cy="351.81" r="1.55" fill="#f4a460"/>
<circle cx="94.25" cy="352.33" r="1.55" fill="#f4a460"/>
<circle cx="94.54" cy="352.87" r="1.55" fill="#f4a460"/>
<circle cx="94.83" cy="353.40" r="1.55" fill="#f4a460"/>
<circle cx="95.11" cy="353.94" r="1.55" fill="#f4a460"/>
<circle cx="95.40" cy="354.47" r="1.55" fill="#f4a460"/>
<circle cx="95.68" cy="355.01" r="1.55" fill="#f4a460"/>
<circle cx="95.96" cy="355.54" r="1.55" fill="#f4a460"/>
<circle cx="96.24" cy="356.07" r="1.55" fill="#f4a460"/>
<circle cx="96.51" cy="356.61" r="1.55" fill="#f4a460"/>
<circle cx="96.79" cy="357.15" r="1.55" fill="#f4a460"/>
<circle cx="97.06" cy="357.69" r="1.55" fill="#f4a460"/>
<circle cx="97.34" cy="358.23" r="1.55" fill="#f4a460"/>
<circle cx="97.61" cy="358.77" r="1.55" fill="#f4a460"/>
<circle cx="97.87" cy="359.31" r="1.55" fill="#f4a460"/>
<circle cx="98.14" cy="359.86" r="1.55" fill="#f4a460"/>
<circle cx="98.41" cy="360.40" r="1.55" fill="#f4a460"/>
<circle cx="98.67" cy="360.94" r="1.55" fill="#f4a460"/>
<circle cx="98.93" cy="361.48" r="1.55" fill="#f4a460"/>
<circle cx="99.19" cy="362.02" r="1.55" fill="#f4a460"/>
<circle cx="99.45" cy="362.57" r="1.55" fill="#f4a460"/>
<circle cx="99.71" cy="363.12" r="1.55" fill="#f4a460"/>
<circle cx="99.96" cy="363.67" r="1.55" fill="#f4a460"/>
<circle cx="100.22" cy="364.22" r="1.55" fill="#f4a460"/>
<circle cx="100.47" cy="364.76" r="1.55" fill="#f4a460"/>
<circle cx="100.72" cy="365.31" r="1.55" fill="#f4a460"/>
<circle cx="100.97" cy="365.86" r="1.55" fill="#f4a460"/>
<circle cx="101.22" cy="366.41" r="1.55" fill="#f4a460"/>
<circle cx="101.47" cy="366.96" r="1.55" fill="#f4a460"/>
<circle cx="101.71" cy="367.51" r="1.55" fill="#f4a460"/>
<circle cx="101.96" cy="368.06" r="1.55" fill="#f4a460"/>
<circle cx="102.20" cy="368.62" r="1.55" fill="#f4a460"/>
<circle cx="102.44" cy="369.18" r="1.55" fill="#f4a460"/>
<circle cx="102.68" cy="369.73" r="1.55" fill="#f4a460"/>
<circle cx="102.92" cy="370.29" r="1.55" fill="#f4a460"/>
<circle cx="103.16" cy="370.84" r="1.55" fill="#f4a460"/>
<circle cx="103.40" cy="371.40" r="1.55" fill="#f4a460"/>
<circle cx="103.63" cy="371.96" r="1.55" fill="#f4a460"/>
<circle cx="103.86" cy="372.51" r="1.55" fill="#f4a460"/>
<circle cx="104.09" cy="373.07" r="1.55" fill="#f4a460"/>
<circle cx="104.32" cy="373.62" r="1.55" fill="#f4a460"/>
<circle cx="104.55" cy="374.18" r="1.55" fill="#f4a460"/>
<circle cx="104.78" cy="374.74" r="1.55" fill="#f4a460"/>
<circle cx="105.01" cy="375.29" r="1.55" fill="#f4a460"/>
<circle cx="105.23" cy="375.86" r="1.55" fill="#f4a460"/>
<circle cx="105.46" cy="376.42" r="1.55" fill="#f4a460"/>
<circle cx="105.68" cy="376.98" r="1.55" fill="#f4a460"/>
<circle cx="105.91" cy="377.55" r="1.55" fill="#f4a460"/>
<circle cx="106.13" cy="378.11" r="1.55" fill="#f4a460"/>
<circle cx="106.35" cy="378.67" r="1.55" fill="#f4a460"/>
<circle cx="106.57" cy="379.24" r="1.55" fill="#f4a460"/>
<circle cx="108.42" cy="384.15" r="1.45" fill="#d2691e"/>
<circle cx="109.50" cy="387.15" r="1.45" fill="#d2691e"/>
<circle cx="110.47" cy="389.90" r="1.45" fill="#d2691e"/>
<circle cx="111.91" cy="394.15" r="1.45" fill="#d2691e"/>
<circle cx="113.54" cy="399.16" r="1.45" fill="#d2691e"/>
<circle cx="119.46" cy="419.42" r="1.55" fill="#3cb371"/>
<circle cx="119.70" cy="420.29" r="1.55" fill="#3cb371"/>
<circle cx="119.93" cy="421.16" r="1.55" fill="#3cb371"/>
<circle cx="120.16" cy="422.03" r="1.55" fill="#3cb371"/>
<circle cx="120.39" cy="422.90" r="1.55" fill="#3cb371"/>
<circle cx="120.61" cy="423.77" r="1.55" fill="#3cb371"/>
<circle cx="120.84" cy="424.65" r="1.55" fill="#3cb371"/>
<circle cx="121.07" cy="425.52" r="1.55" fill="#3cb371"/>
<circle cx="121.29" cy="426.39" r="1.55" fill="#3cb371"/>
<circle cx="121.51" cy="427.27" r="1.55" fill="#3cb371"/>
<circle cx="121.73" cy="428.14" r="1.55" fill="#3cb371"/>
<circle cx="121.95" cy="429.01" r="1.55" fill="#3cb371"/>
<circle cx="92.83" cy="312.41" r="1.55" fill="#3e79b0"/>
<circle cx="94.46" cy="313.58" r="1.55" fill="#3e79b0"/>
<circle cx="95.75" cy="314.54" r="1.55" fill="#3e79b0"/>
<circle cx="96.77" cy="315.33" r="1.55" fill="#3e79b0"/>
<circle cx="97.58" cy="315.97" r="1.55" fill="#3e79b0"/>
<circle cx="98.21" cy="316.49" r="1.55" fill="#3e79b0"/>
<circle cx="98.73" cy="316.91" r="1.55" fill="#3e79b0"/>
<circle cx="99.20" cy="317.30" r="1.55" fill="#3e79b0"/>
<circle cx="99.66" cy="317.69" r="1.55" fill="#3e79b0"/>
<circle cx="100.12" cy="318.09" r="1.55" fill="#3e79b0"/>
<circle cx="100.58" cy="318.48" r="1.55" fill="#3e79b0"/>
<circle cx="101.03" cy="318.88" r="1.55" fill="#3e79b0"/>
<circle cx="101.48" cy="319.28" r="1.55" fill="#3e79b0"/>
<circle cx="101.93" cy="319.69" r="1.55" fill="#3e79b0"/>
<circle cx="102.38" cy="320.10" r="1.55" fill="#3e79b0"/>
<circle cx="102.82" cy="320.51" r="1.55" fill="#3e79b0"/>
<circle cx="103.26" cy="320.92" r="1.55" fill="#3e79b0"/>
<circle cx="103.70" cy="321.34" r="1.55" fill="#3e79b0"/>
<circle cx="104.14" cy="321.75" r="1.55" fill="#3e79b0"/>
<circle cx="104.57" cy="322.18" r="1.55" fill="#3e79b0"/>
<circle cx="105.00" cy="322.60" r="1.55" fill="#3e79b0"/>
<circle cx="105.43" cy="323.03" r="1.55" fill="#3e79b0"/>
<circle cx="105.86" cy="323.46" r="1.55" fill="#3e79b0"/>
<circle cx="106.28" cy="323.89" r="1.55" fill="#3e79b0"/>
<circle cx="106.70" cy="324.32" r="1.55" fill="#3e79b0"/>
<circle cx="107.12" cy="324.76" r="1.55" fill="#3e79b0"/>
<circle cx="107.54" cy="325.20" r="1.55" fill="#3e79b0"/>
<circle cx="107.95" cy="325.65" r="1.55" fill="#3e79b0"/>
<circle cx="108.36" cy="326.09" r="1.55" fill="#3e79b0"/>
<circle cx="108.77" cy="326.54" r="1.55" fill="#3e79b0"/>
<circle cx="109.18" cy="326.98" r="1.55" fill="#3e79b0"/>
<circle cx="109.58" cy="327.43" r="1.55" fill="#3e79b0"/>
<circle cx="109.98" cy="327.89" r="1.55" fill="#3e79b0"/>
<circle cx="110.38" cy="328.35" r="1.55" fill="#3e79b0"/>
<circle cx="110.78" cy="328.81" r="1.55" fill="#3e79b0"/>
<circle cx="111.17" cy="329.26" r="1.55" fill="#3e79b0"/>
<circle cx="111.56" cy="329.73" r="1.55" fill="#3e79b0"/>
<circle cx="111.95" cy="330.19" r="1.55" fill="#3e79b0"/>
<circle cx="112.34" cy="330.66" r="1.55" fill="#3e79b0"/>
<circle cx="112.72" cy="331.13" r="1.55" fill="#3e79b0"/>
<circle cx="113.10" cy="331.60" r="1.55" fill="#3e79b0"/>
<circle cx="113.48" cy="332.07" r="1.55" fill="#3e79b0"/>
<circle cx="113.86" cy="332.55" r="1.55" fill="#3e79b0"/>
<circle cx="114.23" cy="333.02" r="1.55" fill="#3e79b0"/>
<circle cx="114.60" cy="333.50" r="1.55" fill="#3e79b0"/>
<circle cx="114.97" cy="333.99" r="1.55" fill="#3e79b0"/>
<circle cx="115.34" cy="334.47" r="1.55" fill="#3e79b0"/>
<circle cx="115.70" cy="334.95" r="1.55" fill="#3e79b0"/>
<circle cx="116.06" cy="335.43" r="1.55" fill="#3e79b0"/>
<circle cx="116.42" cy="335.92" r="1.55" fill="#3e79b0"/>
<circle cx="116.78" cy="336.42" r="1.55" fill="#3e79b0"/>
<circle cx="117.13" cy="336.91" r="1.55" fill="#3e79b0"/>
<circle cx="117.49" cy="337.40" r="1.55" fill="#3e79b0"/>
<circle cx="117.83" cy="337.89" r="1.55" fill="#3e79b0"/>
<circle cx="118.18" cy="338.39" r="1.55" fill="#3e79b0"/>
<circle cx="118.53" cy="338.89" r="1.55" fill="#3e79b0"/>
<circle cx="118.87" cy="339.38" r="1.55" fill="#3e79b0"/>
<circle cx="119.21" cy="339.88" r="1.55" fill="#3e79b0"/>
<circle cx="119.55" cy="340.38" r="1.55" fill="#3e79b0"/>
<circle cx="119.88" cy="340.88" r="1.55" fill="#3e79b0"/>
<circle cx="120.22" cy="341.39" r="1.55" fill="#3e79b0"/>
<circle cx="120.55" cy="341.90" r="1.55" fill="#3e79b0"/>
<circle cx="120.88" cy="342.40" r="1.55" fill="#3e79b0"/>
<circle cx="121.21" cy="342.91" r="1.55" fill="#3e79b0"/>
<circle cx="121.53" cy="343.42" r="1.55" fill="#3e79b0"/>
<circle cx="121.85" cy="343.92" r="1.55" fill="#3e79b0"/>
<circle cx="122.17" cy="344.44" r="1.55" fill="#3e79b0"/>
<circle cx="122.49" cy="344.96" r="1.55" fill="#3e79b0"/>
<circle cx="122.75" cy="345.38" r="1.55" fill="#ba55d3"/>
<circle cx="123.07" cy="345.89" r="1.55" fill="#ba55d3"/>
<circle cx="123.38" cy="346.41" r="1.55" fill="#ba55d3"/>
<circle cx="107.74" cy="306.45" r="1.55" fill="#3e79b0"/>
<circle cx="109.50" cy="307.41" r="1.55" fill="#3e79b0"/>
<circle cx="110.89" cy="308.21" r="1.55" fill="#3e79b0"/>
<circle cx="112.00" cy="308.86" r="1.55" fill="#3e79b0"/>
<circle cx="112.88" cy="309.40" r="1.55" fill="#3e79b0"/>
<circle cx="113.57" cy="309.83" r="1.55" fill="#3e79b0"/>
<circle cx="114.13" cy="310.19" r="1.55" fill="#3e79b0"/>
<circle cx="114.65" cy="310.52" r="1.55" fill="#3e79b0"/>
<circle cx="115.15" cy="310.85" r="1.55" fill="#3e79b0"/>
<circle cx="115.66" cy="311.19" r="1.55" fill="#3e79b0"/>
<circle cx="116.16" cy="311.52" r="1.55" fill="#3e79b0"/>
<circle cx="116.66" cy="311.87" r="1.55" fill="#3e79b0"/>
<circle cx="117.16" cy="312.21" r="1.55" fill="#3e79b0"/>
<circle cx="117.66" cy="312.56" r="1.55" fill="#3e79b0"/>
<circle cx="118.15" cy="312.91" r="1.55" fill="#3e79b0"/>
<circle cx="118.64" cy="313.26" r="1.55" fill="#3e79b0"/>
<circle cx="119.13" cy="313.62" r="1.55" fill="#3e79b0"/>
<circle cx="119.62" cy="313.98" r="1.55" fill="#3e79b0"/>
<circle cx="120.10" cy="314.34" r="1.55" fill="#3e79b0"/>
<circle cx="120.58" cy="314.71" r="1.55" fill="#3e79b0"/>
<circle cx="121.06" cy="315.08" r="1.55" fill="#3e79b0"/>
<circle cx="121.54" cy="315.46" r="1.55" fill="#3e79b0"/>
<circle cx="122.01" cy="315.83" r="1.55" fill="#3e79b0"/>
<circle cx="122.49" cy="316.21" r="1.55" fill="#3e79b0"/>
<circle cx="122.96" cy="316.60" r="1.55" fill="#3e79b0"/>
<circle cx="123.43" cy="316.98" r="1.55" fill="#3e79b0"/>
<circle cx="123.89" cy="317.37" r="1.55" fill="#3e79b0"/>
<circle cx="124.35" cy="317.76" r="1.55" fill="#3e79b0"/>
<circle cx="124.81" cy="318.16" r="1.55" fill="#3e79b0"/>
<circle cx="125.27" cy="318.55" r="1.55" fill="#3e79b0"/>
<circle cx="125.72" cy="318.95" r="1.55" fill="#3e79b0"/>
<circle cx="126.17" cy="319.35" r="1.55" fill="#3e79b0"/>
<circle cx="126.62" cy="319.76" r="1.55" fill="#3e79b0"/>
<circle cx="127.07" cy="320.17" r="1.55" fill="#3e79b0"/>
<circle cx="127.51" cy="320.58" r="1.55" fill="#3e79b0"/>
<circle cx="127.96" cy="321.00" r="1.55" fill="#3e79b0"/>
<circle cx="128.39" cy="321.41" r="1.55" fill="#3e79b0"/>
<circle cx="128.83" cy="321.83" r="1.55" fill="#3e79b0"/>
<circle cx="129.26" cy="322.25" r="1.55" fill="#3e79b0"/>
<circle cx="129.70" cy="322.68" r="1.55" fill="#3e79b0"/>
<circle cx="130.12" cy="323.11" r="1.55" fill="#3e79b0"/>
<circle cx="130.55" cy="323.53" r="1.55" fill="#3e79b0"/>
<circle cx="130.97" cy="323.97" r="1.55" fill="#3e79b0"/>
<circle cx="131.39" cy="324.40" r="1.55" fill="#3e79b0"/>
<circle cx="131.81" cy="324.84" r="1.55" fill="#3e79b0"/>
<circle cx="132.23" cy="325.28" r="1.55" fill="#3e79b0"/>
<circle cx="132.64" cy="325.72" r="1.55" fill="#3e79b0"/>
<circle cx="133.05" cy="326.17" r="1.55" fill="#3e79b0"/>
<circle cx="133.46" cy="326.61" r="1.55" fill="#3e79b0"/>
<circle cx="133.86" cy="327.06" r="1.55" fill="#3e79b0"/>
<circle cx="134.26" cy="327.51" r="1.55" fill="#3e79b0"/>
<circle cx="134.66" cy="327.97" r="1.55" fill="#3e79b0"/>
<circle cx="135.06" cy="328.42" r="1.55" fill="#3e79b0"/>
<circle cx="135.46" cy="328.88" r="1.55" fill="#3e79b0"/>
<circle cx="135.85" cy="329.34" r="1.55" fill="#3e79b0"/>
<circle cx="136.24" cy="329.80" r="1.55" fill="#3e79b0"/>
<circle cx="136.62" cy="330.27" r="1.55" fill="#3e79b0"/>
<circle cx="137.01" cy="330.73" r="1.55" fill="#3e79b0"/>
<circle cx="137.13" cy="330.87" r="1.55" fill="#ba55d3"/>
<circle cx="137.50" cy="331.34" r="1.55" fill="#ba55d3"/>
<circle cx="137.88" cy="331.81" r="1.55" fill="#ba55d3"/>
<circle cx="138.26" cy="332.28" r="1.55" fill="#ba55d3"/>
<circle cx="138.63" cy="332.75" r="1.55" fill="#ba55d3"/>
<circle cx="139.00" cy="333.22" r="1.55" fill="#ba55d3"/>
<circle cx="124.54" cy="302.70" r="1.55" fill="#3e79b0"/>
<circle cx="126.39" cy="303.51" r="1.55" fill="#3e79b0"/>
<circle cx="127.85" cy="304.19" r="1.55" fill="#3e79b0"/>
<circle cx="129.01" cy="304.74" r="1.55" fill="#3e79b0"/>
<circle cx="129.93" cy="305.19" r="1.55" fill="#3e79b0"/>
<circle cx="130.67" cy="305.57" r="1.55" fill="#3e79b0"/>
<circle cx="131.25" cy="305.87" r="1.55" fill="#3e79b0"/>
<circle cx="131.79" cy="306.15" r="1.55" fill="#3e79b0"/>
<circle cx="132.33" cy="306.43" r="1.55" fill="#3e79b0"/>
<circle cx="132.86" cy="306.72" r="1.55" fill="#3e79b0"/>
<circle cx="133.39" cy="307.01" r="1.55" fill="#3e79b0"/>
<circle cx="133.92" cy="307.30" r="1.55" fill="#3e79b0"/>
<circle cx="134.45" cy="307.60" r="1.55" fill="#3e79b0"/>
<circle cx="134.97" cy="307.90" r="1.55" fill="#3e79b0"/>
<circle cx="135.50" cy="308.21" r="1.55" fill="#3e79b0"/>
<circle cx="136.02" cy="308.51" r="1.55" fill="#3e79b0"/>
<circle cx="136.54" cy="308.82" r="1.55" fill="#3e79b0"/>
<circle cx="137.06" cy="309.13" r="1.55" fill="#3e79b0"/>
<circle cx="137.57" cy="309.45" r="1.55" fill="#3e79b0"/>
<circle cx="138.09" cy="309.77" r="1.55" fill="#3e79b0"/>
<circle cx="138.59" cy="310.09" r="1.55" fill="#3e79b0"/>
<circle cx="139.10" cy="310.42" r="1.55" fill="#3e79b0"/>
<circle cx="139.61" cy="310.75" r="1.55" fill="#3e79b0"/>
<circle cx="140.11" cy="311.08" r="1.55" fill="#3e79b0"/>
<circle cx="140.62" cy="311.42" r="1.55" fill="#3e79b0"/>
<circle cx="141.12" cy="311.76" r="1.55" fill="#3e79b0"/>
<circle cx="141.61" cy="312.10" r="1.55" fill="#3e79b0"/>
<circle cx="142.11" cy="312.45" r="1.55" fill="#3e79b0"/>
<circle cx="142.61" cy="312.80" r="1.55" fill="#3e79b0"/>
<circle cx="143.10" cy="313.15" r="1.55" fill="#3e79b0"/>
<circle cx="143.59" cy="313.51" r="1.55" fill="#3e79b0"/>
<circle cx="144.07" cy="313.86" r="1.55" fill="#3e79b0"/>
<circle cx="144.55" cy="314.22" r="1.55" fill="#3e79b0"/>
<circle cx="145.04" cy="314.59" r="1.55" fill="#3e79b0"/>
<circle cx="145.51" cy="314.96" r="1.55" fill="#3e79b0"/>
<circle cx="145.99" cy="315.33" r="1.55" fill="#3e79b0"/>
<circle cx="146.46" cy="315.70" r="1.55" fill="#3e79b0"/>
<circle cx="146.93" cy="316.08" r="1.55" fill="#3e79b0"/>
<circle cx="147.41" cy="316.46" r="1.55" fill="#3e79b0"/>
<circle cx="147.87" cy="316.84" r="1.55" fill="#3e79b0"/>
<circle cx="148.34" cy="317.23" r="1.55" fill="#3e79b0"/>
<circle cx="148.80" cy="317.62" r="1.55" fill="#3e79b0"/>
<circle cx="149.26" cy="318.01" r="1.55" fill="#3e79b0"/>
<circle cx="149.71" cy="318.41" r="1.55" fill="#3e79b0"/>
<circle cx="150.17" cy="318.81" r="1.55" fill="#3e79b0"/>
<circle cx="150.62" cy="319.21" r="1.55" fill="#3e79b0"/>
<circle cx="151.07" cy="319.61" r="1.55" fill="#3e79b0"/>
<circle cx="151.52" cy="320.02" r="1.55" fill="#3e79b0"/>
<circle cx="151.96" cy="320.43" r="1.55" fill="#3e79b0"/>
<circle cx="152.40" cy="320.84" r="1.55" fill="#3e79b0"/>
<circle cx="152.84" cy="321.25" r="1.55" fill="#3e79b0"/>
<circle cx="153.27" cy="321.67" r="1.55" fill="#3e79b0"/>
<circle cx="153.48" cy="321.87" r="1.55" fill="#ba55d3"/>
<circle cx="153.91" cy="322.29" r="1.55" fill="#ba55d3"/>
<circle cx="154.34" cy="322.71" r="1.55" fill="#ba55d3"/>
<circle cx="154.77" cy="323.14" r="1.55" fill="#ba55d3"/>
<circle cx="155.19" cy="323.56" r="1.55" fill="#ba55d3"/>
<circle cx="155.61" cy="323.99" r="1.55" fill="#ba55d3"/>
<circle cx="156.03" cy="324.43" r="1.55" fill="#ba55d3"/>
<circle cx="156.44" cy="324.86" r="1.55" fill="#ba55d3"/>
<circle cx="156.85" cy="325.30" r="1.55" fill="#ba55d3"/>
<circle cx="157.26" cy="325.74" r="1.55" fill="#ba55d3"/>
<circle cx="157.67" cy="326.18" r="1.55" fill="#ba55d3"/>
<circle cx="158.08" cy="326.62" r="1.55" fill="#ba55d3"/>
<circle cx="158.48" cy="327.07" r="1.55" fill="#ba55d3"/>
<circle cx="158.88" cy="327.52" r="1.55" fill="#ba55d3"/>
<circle cx="159.28" cy="327.97" r="1.55" fill="#ba55d3"/>
<circle cx="147.80" cy="299.20" r="1.55" fill="#3e79b0"/>
<circle cx="149.70" cy="299.84" r="1.55" fill="#3e79b0"/>
<circle cx="151.22" cy="300.39" r="1.55" fill="#3e79b0"/>
<circle cx="152.43" cy="300.83" r="1.55" fill="#3e79b0"/>
<circle cx="153.40" cy="301.20" r="1.55" fill="#3e79b0"/>
<circle cx="154.17" cy="301.51" r="1.55" fill="#3e79b0"/>
<circle cx="154.78" cy="301.75" r="1.55" fill="#3e79b0"/>
<circle cx="155.34" cy="301.98" r="1.55" fill="#3e79b0"/>
<circle cx="155.91" cy="302.21" r="1.55" fill="#3e79b0"/>
<circle cx="156.47" cy="302.44" r="1.55" fill="#3e79b0"/>
<circle cx="157.03" cy="302.68" r="1.55" fill="#3e79b0"/>
<circle cx="157.58" cy="302.92" r="1.55" fill="#3e79b0"/>
<circle cx="158.13" cy="303.16" r="1.55" fill="#3e79b0"/>
<circle cx="158.69" cy="303.41" r="1.55" fill="#3e79b0"/>
<circle cx="159.24" cy="303.66" r="1.55" fill="#3e79b0"/>
<circle cx="159.80" cy="303.91" r="1.55" fill="#3e79b0"/>
<circle cx="160.34" cy="304.17" r="1.55" fill="#3e79b0"/>
<circle cx="160.89" cy="304.43" r="1.55" fill="#3e79b0"/>
<circle cx="161.44" cy="304.69" r="1.55" fill="#3e79b0"/>
<circle cx="161.98" cy="304.96" r="1.55" fill="#3e79b0"/>
<circle cx="162.53" cy="305.23" r="1.55" fill="#3e79b0"/>
<circle cx="163.06" cy="305.50" r="1.55" fill="#3e79b0"/>
<circle cx="163.60" cy="305.77" r="1.55" fill="#3e79b0"/>
<circle cx="164.15" cy="306.05" r="1.55" fill="#3e79b0"/>
<circle cx="164.68" cy="306.34" r="1.55" fill="#3e79b0"/>
<circle cx="165.21" cy="306.62" r="1.55" fill="#3e79b0"/>
<circle cx="165.74" cy="306.91" r="1.55" fill="#3e79b0"/>
<circle cx="166.27" cy="307.20" r="1.55" fill="#3e79b0"/>
<circle cx="166.80" cy="307.50" r="1.55" fill="#3e79b0"/>
<circle cx="167.33" cy="307.80" r="1.55" fill="#3e79b0"/>
<circle cx="167.85" cy="308.10" r="1.55" fill="#3e79b0"/>
<circle cx="168.38" cy="308.41" r="1.55" fill="#3e79b0"/>
<circle cx="168.90" cy="308.72" r="1.55" fill="#3e79b0"/>
<circle cx="169.42" cy="309.03" r="1.55" fill="#3e79b0"/>
<circle cx="169.93" cy="309.34" r="1.55" fill="#3e79b0"/>
<circle cx="170.45" cy="309.66" r="1.55" fill="#3e79b0"/>
<circle cx="170.96" cy="309.99" r="1.55" fill="#3e79b0"/>
<circle cx="171.47" cy="310.31" r="1.55" fill="#3e79b0"/>
<circle cx="171.98" cy="310.64" r="1.55" fill="#3e79b0"/>
<circle cx="172.48" cy="310.97" r="1.55" fill="#3e79b0"/>
<circle cx="172.99" cy="311.31" r="1.55" fill="#3e79b0"/>
<circle cx="173.49" cy="311.65" r="1.55" fill="#3e79b0"/>
<circle cx="173.99" cy="311.99" r="1.55" fill="#3e79b0"/>
<circle cx="174.49" cy="312.33" r="1.55" fill="#3e79b0"/>
<circle cx="174.98" cy="312.68" r="1.55" fill="#3e79b0"/>
<circle cx="175.47" cy="313.03" r="1.55" fill="#3e79b0"/>
<circle cx="175.96" cy="313.39" r="1.55" fill="#3e79b0"/>
<circle cx="176.45" cy="313.75" r="1.55" fill="#3e79b0"/>
<circle cx="176.93" cy="314.11" r="1.55" fill="#3e79b0"/>
<circle cx="177.41" cy="314.47" r="1.55" fill="#3e79b0"/>
<circle cx="177.89" cy="314.84" r="1.55" fill="#3e79b0"/>
<circle cx="178.37" cy="315.21" r="1.55" fill="#3e79b0"/>
<circle cx="178.84" cy="315.58" r="1.55" fill="#3e79b0"/>
<circle cx="179.32" cy="315.96" r="1.55" fill="#3e79b0"/>
<circle cx="179.79" cy="316.34" r="1.55" fill="#3e79b0"/>
<circle cx="180.26" cy="316.72" r="1.55" fill="#3e79b0"/>
<circle cx="180.72" cy="317.10" r="1.55" fill="#3e79b0"/>
<circle cx="181.18" cy="317.49" r="1.55" fill="#3e79b0"/>
<circle cx="181.64" cy="317.88" r="1.55" fill="#3e79b0"/>
<circle cx="182.10" cy="318.28" r="1.55" fill="#3e79b0"/>
<circle cx="182.55" cy="318.67" r="1.55" fill="#3e79b0"/>
<circle cx="183.00" cy="319.07" r="1.55" fill="#3e79b0"/>
<circle cx="183.45" cy="319.47" r="1.55" fill="#3e79b0"/>
<circle cx="183.89" cy="319.87" r="1.55" fill="#ba55d3"/>
<circle cx="184.33" cy="320.28" r="1.55" fill="#ba55d3"/>
<circle cx="184.77" cy="320.68" r="1.55" fill="#ba55d3"/>
<circle cx="185.21" cy="321.10" r="1.55" fill="#ba55d3"/>
<circle cx="185.64" cy="321.51" r="1.55" fill="#ba55d3"/>
<circle cx="186.08" cy="321.93" r="1.55" fill="#ba55d3"/>
<circle cx="186.50" cy="322.35" r="1.55" fill="#ba55d3"/>
<circle cx="186.93" cy="322.77" r="1.55" fill="#ba55d3"/>
<circle cx="187.36" cy="323.19" r="1.55" fill="#ba55d3"/>
<circle cx="187.78" cy="323.62" r="1.55" fill="#ba55d3"/>
<circle cx="166.14" cy="297.30" r="1.55" fill="#3e79b0"/>
<circle cx="168.06" cy="297.85" r="1.55" fill="#3e79b0"/>
<circle cx="169.60" cy="298.31" r="1.55" fill="#3e79b0"/>
<circle cx="170.84" cy="298.69" r="1.55" fill="#3e79b0"/>
<circle cx="171.83" cy="299.01" r="1.55" fill="#3e79b0"/>
<circle cx="172.61" cy="299.27" r="1.55" fill="#3e79b0"/>
<circle cx="173.25" cy="299.48" r="1.55" fill="#3e79b0"/>
<circle cx="173.83" cy="299.68" r="1.55" fill="#3e79b0"/>
<circle cx="174.40" cy="299.87" r="1.55" fill="#3e79b0"/>
<circle cx="174.97" cy="300.08" r="1.55" fill="#3e79b0"/>
<circle cx="175.54" cy="300.28" r="1.55" fill="#3e79b0"/>
<circle cx="176.11" cy="300.49" r="1.55" fill="#3e79b0"/>
<circle cx="176.67" cy="300.70" r="1.55" fill="#3e79b0"/>
<circle cx="177.24" cy="300.91" r="1.55" fill="#3e79b0"/>
<circle cx="177.81" cy="301.13" r="1.55" fill="#3e79b0"/>
<circle cx="178.38" cy="301.35" r="1.55" fill="#3e79b0"/>
<circle cx="178.95" cy="301.57" r="1.55" fill="#3e79b0"/>
<circle cx="179.51" cy="301.79" r="1.55" fill="#3e79b0"/>
<circle cx="180.08" cy="302.02" r="1.55" fill="#3e79b0"/>
<circle cx="180.63" cy="302.25" r="1.55" fill="#3e79b0"/>
<circle cx="181.19" cy="302.49" r="1.55" fill="#3e79b0"/>
<circle cx="181.74" cy="302.72" r="1.55" fill="#3e79b0"/>
<circle cx="182.30" cy="302.97" r="1.55" fill="#3e79b0"/>
<circle cx="182.86" cy="303.21" r="1.55" fill="#3e79b0"/>
<circle cx="183.41" cy="303.46" r="1.55" fill="#3e79b0"/>
<circle cx="183.97" cy="303.71" r="1.55" fill="#3e79b0"/>
<circle cx="184.51" cy="303.96" r="1.55" fill="#3e79b0"/>
<circle cx="185.06" cy="304.22" r="1.55" fill="#3e79b0"/>
<circle cx="185.62" cy="304.48" r="1.55" fill="#3e79b0"/>
<circle cx="186.16" cy="304.74" r="1.55" fill="#3e79b0"/>
<circle cx="186.71" cy="305.01" r="1.55" fill="#3e79b0"/>
<circle cx="187.25" cy="305.28" r="1.55" fill="#3e79b0"/>
<circle cx="187.79" cy="305.55" r="1.55" fill="#3e79b0"/>
<circle cx="188.33" cy="305.83" r="1.55" fill="#3e79b0"/>
<circle cx="188.87" cy="306.11" r="1.55" fill="#3e79b0"/>
<circle cx="189.41" cy="306.40" r="1.55" fill="#3e79b0"/>
<circle cx="189.94" cy="306.68" r="1.55" fill="#3e79b0"/>
<circle cx="190.47" cy="306.97" r="1.55" fill="#3e79b0"/>
<circle cx="191.00" cy="307.27" r="1.55" fill="#3e79b0"/>
<circle cx="191.53" cy="307.56" r="1.55" fill="#3e79b0"/>
<circle cx="192.06" cy="307.86" r="1.55" fill="#3e79b0"/>
<circle cx="192.58" cy="308.16" r="1.55" fill="#3e79b0"/>
<circle cx="193.10" cy="308.47" r="1.55" fill="#3e79b0"/>
<circle cx="193.62" cy="308.78" r="1.55" fill="#3e79b0"/>
<circle cx="194.14" cy="309.09" r="1.55" fill="#3e79b0"/>
<circle cx="194.66" cy="309.41" r="1.55" fill="#3e79b0"/>
<circle cx="195.17" cy="309.73" r="1.55" fill="#3e79b0"/>
<circle cx="195.68" cy="310.05" r="1.55" fill="#3e79b0"/>
<circle cx="196.19" cy="310.38" r="1.55" fill="#3e79b0"/>
<circle cx="196.70" cy="310.71" r="1.55" fill="#3e79b0"/>
<circle cx="197.20" cy="311.04" r="1.55" fill="#3e79b0"/>
<circle cx="197.70" cy="311.38" r="1.55" fill="#3e79b0"/>
<circle cx="198.20" cy="311.71" r="1.55" fill="#3e79b0"/>
<circle cx="198.70" cy="312.06" r="1.55" fill="#3e79b0"/>
<circle cx="199.20" cy="312.40" r="1.55" fill="#3e79b0"/>
<circle cx="199.69" cy="312.75" r="1.55" fill="#3e79b0"/>
<circle cx="200.18" cy="313.10" r="1.55" fill="#3e79b0"/>
<circle cx="200.67" cy="313.46" r="1.55" fill="#3e79b0"/>
<circle cx="201.16" cy="313.82" r="1.55" fill="#3e79b0"/>
<circle cx="201.64" cy="314.18" r="1.55" fill="#3e79b0"/>
<circle cx="202.13" cy="314.55" r="1.55" fill="#3e79b0"/>
<circle cx="202.61" cy="314.92" r="1.55" fill="#3e79b0"/>
<circle cx="203.08" cy="315.29" r="1.55" fill="#3e79b0"/>
<circle cx="203.56" cy="315.66" r="1.55" fill="#3e79b0"/>
<circle cx="204.03" cy="316.04" r="1.55" fill="#3e79b0"/>
<circle cx="204.50" cy="316.42" r="1.55" fill="#3e79b0"/>
<circle cx="204.97" cy="316.80" r="1.55" fill="#3e79b0"/>
<circle cx="205.44" cy="317.19" r="1.55" fill="#3e79b0"/>
<circle cx="205.90" cy="317.58" r="1.55" fill="#3e79b0"/>
<circle cx="206.36" cy="317.97" r="1.55" fill="#3e79b0"/>
<circle cx="206.81" cy="318.37" r="1.55" fill="#3e79b0"/>
<circle cx="206.82" cy="318.37" r="1.55" fill="#ba55d3"/>
<circle cx="207.27" cy="318.76" r="1.55" fill="#ba55d3"/>
<circle cx="207.72" cy="319.16" r="1.55" fill="#ba55d3"/>
<circle cx="208.16" cy="319.56" r="1.55" fill="#ba55d3"/>
<circle cx="208.61" cy="319.97" r="1.55" fill="#ba55d3"/>
<circle cx="209.05" cy="320.38" r="1.55" fill="#ba55d3"/>
<circle cx="209.49" cy="320.79" r="1.55" fill="#ba55d3"/>
<circle cx="209.93" cy="321.20" r="1.55" fill="#ba55d3"/>
<circle cx="210.36" cy="321.61" r="1.55" fill="#ba55d3"/>
<circle cx="210.79" cy="322.03" r="1.55" fill="#ba55d3"/>
<circle cx="183.12" cy="295.40" r="1.55" fill="#3e79b0"/>
<circle cx="185.07" cy="295.85" r="1.55" fill="#3e79b0"/>
<circle cx="186.63" cy="296.23" r="1.55" fill="#3e79b0"/>
<circle cx="187.88" cy="296.54" r="1.55" fill="#3e79b0"/>
<circle cx="188.87" cy="296.80" r="1.55" fill="#3e79b0"/>
<circle cx="189.67" cy="297.01" r="1.55" fill="#3e79b0"/>
<circle cx="190.32" cy="297.18" r="1.55" fill="#3e79b0"/>
<circle cx="190.90" cy="297.34" r="1.55" fill="#3e79b0"/>
<circle cx="191.48" cy="297.51" r="1.55" fill="#3e79b0"/>
<circle cx="192.07" cy="297.67" r="1.55" fill="#3e79b0"/>
<circle cx="192.65" cy="297.84" r="1.55" fill="#3e79b0"/>
<circle cx="193.24" cy="298.02" r="1.55" fill="#3e79b0"/>
<circle cx="193.82" cy="298.19" r="1.55" fill="#3e79b0"/>
<circle cx="194.41" cy="298.37" r="1.55" fill="#3e79b0"/>
<circle cx="194.99" cy="298.55" r="1.55" fill="#3e79b0"/>
<circle cx="195.58" cy="298.73" r="1.55" fill="#3e79b0"/>
<circle cx="196.16" cy="298.92" r="1.55" fill="#3e79b0"/>
<circle cx="196.74" cy="299.11" r="1.55" fill="#3e79b0"/>
<circle cx="197.32" cy="299.30" r="1.55" fill="#3e79b0"/>
<circle cx="197.90" cy="299.49" r="1.55" fill="#3e79b0"/>
<circle cx="198.48" cy="299.69" r="1.55" fill="#3e79b0"/>
<circle cx="199.06" cy="299.89" r="1.55" fill="#3e79b0"/>
<circle cx="199.63" cy="300.09" r="1.55" fill="#3e79b0"/>
<circle cx="200.21" cy="300.30" r="1.55" fill="#3e79b0"/>
<circle cx="200.77" cy="300.51" r="1.55" fill="#3e79b0"/>
<circle cx="201.35" cy="300.72" r="1.55" fill="#3e79b0"/>
<circle cx="201.92" cy="300.93" r="1.55" fill="#3e79b0"/>
<circle cx="202.49" cy="301.15" r="1.55" fill="#3e79b0"/>
<circle cx="203.05" cy="301.37" r="1.55" fill="#3e79b0"/>
<circle cx="203.62" cy="301.59" r="1.55" fill="#3e79b0"/>
<circle cx="204.18" cy="301.82" r="1.55" fill="#3e79b0"/>
<circle cx="204.74" cy="302.05" r="1.55" fill="#3e79b0"/>
<circle cx="205.29" cy="302.28" r="1.55" fill="#3e79b0"/>
<circle cx="205.85" cy="302.51" r="1.55" fill="#3e79b0"/>
<circle cx="206.42" cy="302.75" r="1.55" fill="#3e79b0"/>
<circle cx="206.97" cy="302.99" r="1.55" fill="#3e79b0"/>
<circle cx="207.53" cy="303.24" r="1.55" fill="#3e79b0"/>
<circle cx="208.08" cy="303.48" r="1.55" fill="#3e79b0"/>
<circle cx="208.64" cy="303.74" r="1.55" fill="#3e79b0"/>
<circle cx="209.18" cy="303.99" r="1.55" fill="#3e79b0"/>
<circle cx="209.73" cy="304.25" r="1.55" fill="#3e79b0"/>
<circle cx="210.28" cy="304.51" r="1.55" fill="#3e79b0"/>
<circle cx="210.83" cy="304.77" r="1.55" fill="#3e79b0"/>
<circle cx="211.38" cy="305.04" r="1.55" fill="#3e79b0"/>
<circle cx="211.92" cy="305.31" r="1.55" fill="#3e79b0"/>
<circle cx="212.46" cy="305.58" r="1.55" fill="#3e79b0"/>
<circle cx="212.99" cy="305.86" r="1.55" fill="#3e79b0"/>
<circle cx="213.53" cy="306.14" r="1.55" fill="#3e79b0"/>
<circle cx="214.07" cy="306.42" r="1.55" fill="#3e79b0"/>
<circle cx="214.60" cy="306.71" r="1.55" fill="#3e79b0"/>
<circle cx="215.13" cy="307.00" r="1.55" fill="#3e79b0"/>
<circle cx="215.66" cy="307.29" r="1.55" fill="#3e79b0"/>
<circle cx="216.18" cy="307.59" r="1.55" fill="#3e79b0"/>
<circle cx="216.71" cy="307.89" r="1.55" fill="#3e79b0"/>
<circle cx="217.24" cy="308.19" r="1.55" fill="#3e79b0"/>
<circle cx="217.76" cy="308.50" r="1.55" fill="#3e79b0"/>
<circle cx="218.28" cy="308.81" r="1.55" fill="#3e79b0"/>
<circle cx="218.79" cy="309.12" r="1.55" fill="#3e79b0"/>
<circle cx="219.31" cy="309.44" r="1.55" fill="#3e79b0"/>
<circle cx="219.82" cy="309.76" r="1.55" fill="#3e79b0"/>
<circle cx="220.34" cy="310.08" r="1.55" fill="#3e79b0"/>
<circle cx="220.84" cy="310.41" r="1.55" fill="#3e79b0"/>
<circle cx="221.35" cy="310.74" r="1.55" fill="#3e79b0"/>
<circle cx="221.86" cy="311.07" r="1.55" fill="#3e79b0"/>
<circle cx="222.36" cy="311.41" r="1.55" fill="#3e79b0"/>
<circle cx="222.87" cy="311.75" r="1.55" fill="#3e79b0"/>
<circle cx="223.36" cy="312.09" r="1.55" fill="#3e79b0"/>
<circle cx="223.86" cy="312.44" r="1.55" fill="#3e79b0"/>
<circle cx="224.35" cy="312.79" r="1.55" fill="#3e79b0"/>
<circle cx="224.84" cy="313.14" r="1.55" fill="#3e79b0"/>
<circle cx="225.33" cy="313.50" r="1.55" fill="#3e79b0"/>
<circle cx="225.82" cy="313.85" r="1.55" fill="#3e79b0"/>
<circle cx="226.30" cy="314.22" r="1.55" fill="#3e79b0"/>
<circle cx="226.78" cy="314.58" r="1.55" fill="#3e79b0"/>
<circle cx="227.27" cy="314.95" r="1.55" fill="#3e79b0"/>
<circle cx="227.74" cy="315.32" r="1.55" fill="#3e79b0"/>
<circle cx="228.21" cy="315.70" r="1.55" fill="#3e79b0"/>
<circle cx="228.68" cy="316.07" r="1.55" fill="#3e79b0"/>
<circle cx="229.15" cy="316.45" r="1.55" fill="#3e79b0"/>
<circle cx="229.62" cy="316.84" r="1.55" fill="#3e79b0"/>
<circle cx="229.96" cy="317.12" r="1.55" fill="#ba55d3"/>
<circle cx="230.42" cy="317.50" r="1.55" fill="#ba55d3"/>
<circle cx="230.88" cy="317.89" r="1.55" fill="#ba55d3"/>
<circle cx="231.33" cy="318.29" r="1.55" fill="#ba55d3"/>
<circle cx="231.78" cy="318.68" r="1.55" fill="#ba55d3"/>
<circle cx="232.23" cy="319.08" r="1.55" fill="#ba55d3"/>
<circle cx="232.68" cy="319.48" r="1.55" fill="#ba55d3"/>
<circle cx="233.13" cy="319.88" r="1.55" fill="#ba55d3"/>
<circle cx="233.57" cy="320.29" r="1.55" fill="#ba55d3"/>
<circle cx="206.66" cy="293.63" r="1.55" fill="#3e79b0"/>
<circle cx="208.63" cy="293.98" r="1.55" fill="#3e79b0"/>
<circle cx="210.23" cy="294.28" r="1.55" fill="#3e79b0"/>
<circle cx="211.50" cy="294.53" r="1.55" fill="#3e79b0"/>
<circle cx="212.52" cy="294.73" r="1.55" fill="#3e79b0"/>
<circle cx="213.33" cy="294.90" r="1.55" fill="#3e79b0"/>
<circle cx="213.99" cy="295.04" r="1.55" fill="#3e79b0"/>
<circle cx="214.58" cy="295.16" r="1.55" fill="#3e79b0"/>
<circle cx="215.18" cy="295.30" r="1.55" fill="#3e79b0"/>
<circle cx="215.78" cy="295.43" r="1.55" fill="#3e79b0"/>
<circle cx="216.36" cy="295.56" r="1.55" fill="#3e79b0"/>
<circle cx="216.96" cy="295.70" r="1.55" fill="#3e79b0"/>
<circle cx="217.56" cy="295.84" r="1.55" fill="#3e79b0"/>
<circle cx="218.16" cy="295.98" r="1.55" fill="#3e79b0"/>
<circle cx="218.76" cy="296.13" r="1.55" fill="#3e79b0"/>
<circle cx="219.34" cy="296.27" r="1.55" fill="#3e79b0"/>
<circle cx="219.94" cy="296.42" r="1.55" fill="#3e79b0"/>
<circle cx="220.53" cy="296.57" r="1.55" fill="#3e79b0"/>
<circle cx="221.13" cy="296.72" r="1.55" fill="#3e79b0"/>
<circle cx="221.72" cy="296.88" r="1.55" fill="#3e79b0"/>
<circle cx="222.31" cy="297.03" r="1.55" fill="#3e79b0"/>
<circle cx="222.90" cy="297.20" r="1.55" fill="#3e79b0"/>
<circle cx="223.48" cy="297.36" r="1.55" fill="#3e79b0"/>
<circle cx="224.08" cy="297.52" r="1.55" fill="#3e79b0"/>
<circle cx="224.66" cy="297.69" r="1.55" fill="#3e79b0"/>
<circle cx="225.26" cy="297.86" r="1.55" fill="#3e79b0"/>
<circle cx="225.84" cy="298.04" r="1.55" fill="#3e79b0"/>
<circle cx="226.42" cy="298.21" r="1.55" fill="#3e79b0"/>
<circle cx="227.00" cy="298.39" r="1.55" fill="#3e79b0"/>
<circle cx="227.58" cy="298.56" r="1.55" fill="#3e79b0"/>
<circle cx="228.16" cy="298.75" r="1.55" fill="#3e79b0"/>
<circle cx="228.74" cy="298.93" r="1.55" fill="#3e79b0"/>
<circle cx="229.32" cy="299.12" r="1.55" fill="#3e79b0"/>
<circle cx="229.90" cy="299.31" r="1.55" fill="#3e79b0"/>
<circle cx="230.48" cy="299.51" r="1.55" fill="#3e79b0"/>
<circle cx="231.05" cy="299.70" r="1.55" fill="#3e79b0"/>
<circle cx="231.63" cy="299.91" r="1.55" fill="#3e79b0"/>
<circle cx="232.20" cy="300.11" r="1.55" fill="#3e79b0"/>
<circle cx="232.78" cy="300.31" r="1.55" fill="#3e79b0"/>
<circle cx="233.35" cy="300.52" r="1.55" fill="#3e79b0"/>
<circle cx="233.92" cy="300.73" r="1.55" fill="#3e79b0"/>
<circle cx="234.49" cy="300.95" r="1.55" fill="#3e79b0"/>
<circle cx="235.06" cy="301.17" r="1.55" fill="#3e79b0"/>
<circle cx="235.62" cy="301.38" r="1.55" fill="#3e79b0"/>
<circle cx="236.19" cy="301.61" r="1.55" fill="#3e79b0"/>
<circle cx="236.75" cy="301.83" r="1.55" fill="#3e79b0"/>
<circle cx="237.32" cy="302.06" r="1.55" fill="#3e79b0"/>
<circle cx="237.87" cy="302.29" r="1.55" fill="#3e79b0"/>
<circle cx="238.43" cy="302.53" r="1.55" fill="#3e79b0"/>
<circle cx="238.98" cy="302.76" r="1.55" fill="#3e79b0"/>
<circle cx="239.54" cy="303.01" r="1.55" fill="#3e79b0"/>
<circle cx="240.10" cy="303.25" r="1.55" fill="#3e79b0"/>
<circle cx="240.65" cy="303.50" r="1.55" fill="#3e79b0"/>
<circle cx="241.21" cy="303.75" r="1.55" fill="#3e79b0"/>
<circle cx="241.76" cy="304.01" r="1.55" fill="#3e79b0"/>
<circle cx="242.31" cy="304.27" r="1.55" fill="#3e79b0"/>
<circle cx="242.85" cy="304.52" r="1.55" fill="#3e79b0"/>
<circle cx="243.40" cy="304.79" r="1.55" fill="#3e79b0"/>
<circle cx="243.94" cy="305.05" r="1.55" fill="#3e79b0"/>
<circle cx="244.48" cy="305.32" r="1.55" fill="#3e79b0"/>
<circle cx="245.03" cy="305.60" r="1.55" fill="#3e79b0"/>
<circle cx="245.56" cy="305.88" r="1.55" fill="#3e79b0"/>
<circle cx="246.10" cy="306.16" r="1.55" fill="#3e79b0"/>
<circle cx="246.64" cy="306.44" r="1.55" fill="#3e79b0"/>
<circle cx="247.17" cy="306.73" r="1.55" fill="#3e79b0"/>
<circle cx="247.70" cy="307.02" r="1.55" fill="#3e79b0"/>
<circle cx="248.23" cy="307.31" r="1.55" fill="#3e79b0"/>
<circle cx="248.76" cy="307.61" r="1.55" fill="#3e79b0"/>
<circle cx="249.28" cy="307.91" r="1.55" fill="#3e79b0"/>
<circle cx="249.81" cy="308.21" r="1.55" fill="#3e79b0"/>
<circle cx="250.33" cy="308.52" r="1.55" fill="#3e79b0"/>
<circle cx="250.85" cy="308.83" r="1.55" fill="#3e79b0"/>
<circle cx="251.37" cy="309.14" r="1.55" fill="#3e79b0"/>
<circle cx="251.88" cy="309.46" r="1.55" fill="#3e79b0"/>
<circle cx="252.40" cy="309.78" r="1.55" fill="#3e79b0"/>
<circle cx="252.91" cy="310.10" r="1.55" fill="#3e79b0"/>
<circle cx="253.42" cy="310.43" r="1.55" fill="#3e79b0"/>
<circle cx="253.92" cy="310.76" r="1.55" fill="#3e79b0"/>
<circle cx="254.43" cy="311.09" r="1.55" fill="#3e79b0"/>
<circle cx="254.94" cy="311.43" r="1.55" fill="#3e79b0"/>
<circle cx="255.44" cy="311.77" r="1.55" fill="#3e79b0"/>
<circle cx="255.94" cy="312.12" r="1.55" fill="#3e79b0"/>
<circle cx="256.43" cy="312.46" r="1.55" fill="#3e79b0"/>
<circle cx="256.93" cy="312.81" r="1.55" fill="#3e79b0"/>
<circle cx="257.41" cy="313.17" r="1.55" fill="#3e79b0"/>
<circle cx="257.90" cy="313.52" r="1.55" fill="#3e79b0"/>
<circle cx="258.39" cy="313.88" r="1.55" fill="#3e79b0"/>
<circle cx="258.87" cy="314.24" r="1.55" fill="#3e79b0"/>
<circle cx="259.36" cy="314.61" r="1.55" fill="#3e79b0"/>
<circle cx="259.83" cy="314.98" r="1.55" fill="#3e79b0"/>
<circle cx="260.31" cy="315.35" r="1.55" fill="#3e79b0"/>
<circle cx="260.79" cy="315.73" r="1.55" fill="#3e79b0"/>
<circle cx="261.26" cy="316.10" r="1.55" fill="#3e79b0"/>
<circle cx="261.28" cy="316.12" r="1.55" fill="#ba55d3"/>
<circle cx="261.74" cy="316.50" r="1.55" fill="#ba55d3"/>
<circle cx="262.21" cy="316.88" r="1.55" fill="#ba55d3"/>
<circle cx="262.67" cy="317.26" r="1.55" fill="#ba55d3"/>
<circle cx="263.13" cy="317.65" r="1.55" fill="#ba55d3"/>
<circle cx="263.58" cy="318.04" r="1.55" fill="#ba55d3"/>
<circle cx="264.04" cy="318.43" r="1.55" fill="#ba55d3"/>
<circle cx="225.29" cy="292.68" r="1.55" fill="#3e79b0"/>
<circle cx="227.29" cy="292.98" r="1.55" fill="#3e79b0"/>
<circle cx="228.90" cy="293.23" r="1.55" fill="#3e79b0"/>
<circle cx="230.19" cy="293.44" r="1.55" fill="#3e79b0"/>
<circle cx="231.21" cy="293.62" r="1.55" fill="#3e79b0"/>
<circle cx="232.04" cy="293.76" r="1.55" fill="#3e79b0"/>
<circle cx="232.68" cy="293.88" r="1.55" fill="#3e79b0"/>
<circle cx="233.29" cy="293.99" r="1.55" fill="#3e79b0"/>
<circle cx="233.88" cy="294.10" r="1.55" fill="#3e79b0"/>
<circle cx="234.50" cy="294.21" r="1.55" fill="#3e79b0"/>
<circle cx="235.10" cy="294.33" r="1.55" fill="#3e79b0"/>
<circle cx="235.70" cy="294.45" r="1.55" fill="#3e79b0"/>
<circle cx="236.31" cy="294.57" r="1.55" fill="#3e79b0"/>
<circle cx="236.91" cy="294.69" r="1.55" fill="#3e79b0"/>
<circle cx="237.51" cy="294.81" r="1.55" fill="#3e79b0"/>
<circle cx="238.12" cy="294.94" r="1.55" fill="#3e79b0"/>
<circle cx="238.72" cy="295.06" r="1.55" fill="#3e79b0"/>
<circle cx="239.31" cy="295.19" r="1.55" fill="#3e79b0"/>
<circle cx="239.92" cy="295.32" r="1.55" fill="#3e79b0"/>
<circle cx="240.51" cy="295.46" r="1.55" fill="#3e79b0"/>
<circle cx="241.10" cy="295.59" r="1.55" fill="#3e79b0"/>
<circle cx="241.70" cy="295.73" r="1.55" fill="#3e79b0"/>
<circle cx="242.30" cy="295.87" r="1.55" fill="#3e79b0"/>
<circle cx="242.90" cy="296.01" r="1.55" fill="#3e79b0"/>
<circle cx="243.50" cy="296.16" r="1.55" fill="#3e79b0"/>
<circle cx="244.09" cy="296.30" r="1.55" fill="#3e79b0"/>
<circle cx="244.69" cy="296.45" r="1.55" fill="#3e79b0"/>
<circle cx="245.28" cy="296.60" r="1.55" fill="#3e79b0"/>
<circle cx="245.88" cy="296.76" r="1.55" fill="#3e79b0"/>
<circle cx="246.47" cy="296.92" r="1.55" fill="#3e79b0"/>
<circle cx="247.05" cy="297.07" r="1.55" fill="#3e79b0"/>
<circle cx="247.65" cy="297.23" r="1.55" fill="#3e79b0"/>
<circle cx="248.23" cy="297.40" r="1.55" fill="#3e79b0"/>
<circle cx="248.83" cy="297.56" r="1.55" fill="#3e79b0"/>
<circle cx="249.41" cy="297.73" r="1.55" fill="#3e79b0"/>
<circle cx="249.99" cy="297.90" r="1.55" fill="#3e79b0"/>
<circle cx="250.58" cy="298.07" r="1.55" fill="#3e79b0"/>
<circle cx="251.15" cy="298.25" r="1.55" fill="#3e79b0"/>
<circle cx="251.74" cy="298.42" r="1.55" fill="#3e79b0"/>
<circle cx="252.32" cy="298.60" r="1.55" fill="#3e79b0"/>
<circle cx="252.90" cy="298.79" r="1.55" fill="#3e79b0"/>
<circle cx="253.48" cy="298.97" r="1.55" fill="#3e79b0"/>
<circle cx="254.06" cy="299.17" r="1.55" fill="#3e79b0"/>
<circle cx="254.64" cy="299.36" r="1.55" fill="#3e79b0"/>
<circle cx="255.22" cy="299.55" r="1.55" fill="#3e79b0"/>
<circle cx="255.80" cy="299.75" r="1.55" fill="#3e79b0"/>
<circle cx="256.38" cy="299.95" r="1.55" fill="#3e79b0"/>
<circle cx="256.95" cy="300.15" r="1.55" fill="#3e79b0"/>
<circle cx="257.53" cy="300.36" r="1.55" fill="#3e79b0"/>
<circle cx="258.10" cy="300.57" r="1.55" fill="#3e79b0"/>
<circle cx="258.67" cy="300.78" r="1.55" fill="#3e79b0"/>
<circle cx="259.24" cy="301.00" r="1.55" fill="#3e79b0"/>
<circle cx="259.81" cy="301.22" r="1.55" fill="#3e79b0"/>
<circle cx="260.37" cy="301.44" r="1.55" fill="#3e79b0"/>
<circle cx="260.94" cy="301.66" r="1.55" fill="#3e79b0"/>
<circle cx="261.50" cy="301.89" r="1.55" fill="#3e79b0"/>
<circle cx="262.07" cy="302.12" r="1.55" fill="#3e79b0"/>
<circle cx="262.63" cy="302.35" r="1.55" fill="#3e79b0"/>
<circle cx="263.19" cy="302.59" r="1.55" fill="#3e79b0"/>
<circle cx="263.74" cy="302.83" r="1.55" fill="#3e79b0"/>
<circle cx="264.30" cy="303.07" r="1.55" fill="#3e79b0"/>
<circle cx="264.85" cy="303.31" r="1.55" fill="#3e79b0"/>
<circle cx="265.40" cy="303.56" r="1.55" fill="#3e79b0"/>
<circle cx="265.96" cy="303.82" r="1.55" fill="#3e79b0"/>
<circle cx="266.51" cy="304.07" r="1.55" fill="#3e79b0"/>
<circle cx="267.06" cy="304.33" r="1.55" fill="#3e79b0"/>
<circle cx="267.60" cy="304.59" r="1.55" fill="#3e79b0"/>
<circle cx="268.15" cy="304.86" r="1.55" fill="#3e79b0"/>
<circle cx="268.69" cy="305.12" r="1.55" fill="#3e79b0"/>
<circle cx="269.23" cy="305.39" r="1.55" fill="#3e79b0"/>
<circle cx="269.78" cy="305.67" r="1.55" fill="#3e79b0"/>
<circle cx="270.32" cy="305.95" r="1.55" fill="#3e79b0"/>
<circle cx="270.86" cy="306.23" r="1.55" fill="#3e79b0"/>
<circle cx="271.39" cy="306.52" r="1.55" fill="#3e79b0"/>
<circle cx="271.93" cy="306.81" r="1.55" fill="#3e79b0"/>
<circle cx="272.45" cy="307.09" r="1.55" fill="#3e79b0"/>
<circle cx="272.98" cy="307.39" r="1.55" fill="#3e79b0"/>
<circle cx="273.52" cy="307.69" r="1.55" fill="#3e79b0"/>
<circle cx="274.04" cy="307.99" r="1.55" fill="#3e79b0"/>
<circle cx="274.57" cy="308.30" r="1.55" fill="#3e79b0"/>
<circle cx="275.09" cy="308.60" r="1.55" fill="#3e79b0"/>
<circle cx="275.61" cy="308.92" r="1.55" fill="#3e79b0"/>
<circle cx="276.12" cy="309.23" r="1.55" fill="#3e79b0"/>
<circle cx="276.64" cy="309.55" r="1.55" fill="#3e79b0"/>
<circle cx="277.15" cy="309.87" r="1.55" fill="#3e79b0"/>
<circle cx="277.66" cy="310.20" r="1.55" fill="#3e79b0"/>
<circle cx="278.17" cy="310.52" r="1.55" fill="#3e79b0"/>
<circle cx="278.68" cy="310.85" r="1.55" fill="#3e79b0"/>
<circle cx="279.19" cy="311.19" r="1.55" fill="#3e79b0"/>
<circle cx="279.68" cy="311.53" r="1.55" fill="#3e79b0"/>
<circle cx="280.18" cy="311.87" r="1.55" fill="#3e79b0"/>
<circle cx="280.69" cy="312.21" r="1.55" fill="#3e79b0"/>
<circle cx="281.18" cy="312.56" r="1.55" fill="#3e79b0"/>
<circle cx="281.68" cy="312.91" r="1.55" fill="#3e79b0"/>
<circle cx="282.17" cy="313.27" r="1.55" fill="#3e79b0"/>
<circle cx="282.66" cy="313.63" r="1.55" fill="#3e79b0"/>
<circle cx="283.14" cy="313.98" r="1.55" fill="#3e79b0"/>
<circle cx="283.62" cy="314.35" r="1.55" fill="#3e79b0"/>
<circle cx="284.10" cy="314.71" r="1.55" fill="#3e79b0"/>
<circle cx="284.58" cy="315.08" r="1.55" fill="#3e79b0"/>
<circle cx="284.95" cy="315.37" r="1.55" fill="#ba55d3"/>
<circle cx="285.42" cy="315.74" r="1.55" fill="#ba55d3"/>
<circle cx="285.88" cy="316.11" r="1.55" fill="#ba55d3"/>
<circle cx="286.35" cy="316.49" r="1.55" fill="#ba55d3"/>
<circle cx="286.81" cy="316.87" r="1.55" fill="#ba55d3"/>
<circle cx="287.28" cy="317.26" r="1.55" fill="#ba55d3"/>
<g clip-path="url(#clipb)">
<polyline points="35.80,299.98 36.42,300.21 37.05,300.43 37.67,300.66 38.30,300.89 38.92,301.13 39.55,301.37 40.17,301.62 40.79,301.87 41.42,302.13 42.04,302.39 42.67,302.65 43.29,302.92 43.91,303.19 44.54,303.47 45.16,303.76 45.79,304.05 46.41,304.34 47.04,304.64 47.66,304.94 48.28,305.25 48.91,305.57 49.53,305.89 50.16,306.22 50.78,306.55 51.41,306.89 52.03,307.23 52.65,307.58 53.28,307.94 53.90,308.30 54.53,308.67 55.15,309.05 55.78,309.43 56.40,309.82 57.02,310.21 57.65,310.62 58.27,311.03 58.90,311.44 59.52,311.87 60.14,312.30 60.77,312.74 61.39,313.19 62.02,313.65 62.64,314.11 63.27,314.58 63.89,315.06 64.51,315.55 65.14,316.05 65.76,316.56 66.39,317.07 67.01,317.60 67.64,318.13 68.26,318.68 68.88,319.23 69.51,319.79 70.13,320.37 70.76,320.95 71.38,321.54 72.01,322.15 72.63,322.76 73.25,323.39 73.88,324.02 74.50,324.67 75.13,325.33 75.75,326.00 76.37,326.69 77.00,327.38 77.62,328.09 78.25,328.81 78.87,329.54 79.50,330.29 80.12,331.05 80.74,331.82 81.37,332.61 81.99,333.41 82.62,334.22 83.24,335.05 83.87,335.90 84.49,336.75 85.11,337.63 85.74,338.52 86.36,339.42 86.99,340.34 87.61,341.28 88.24,342.24 88.86,343.21 89.48,344.20 90.11,345.20 90.73,346.23 91.36,347.27 91.98,348.33 92.60,349.41 93.23,350.51 93.85,351.62 94.48,352.76 95.10,353.92 95.73,355.10 96.35,356.30 96.97,357.52 97.60,358.76 98.22,360.02 98.85,361.31 99.47,362.62 100.10,363.95 100.72,365.31 101.34,366.69 101.97,368.09 102.59,369.52 103.22,370.98 103.84,372.46 104.47,373.97 105.09,375.50 105.71,377.06 106.34,378.65 106.96,380.27 107.59,381.91 108.21,383.59 108.83,385.29 109.46,387.03 110.08,388.79 110.71,390.59 111.33,392.42 111.96,394.28 112.58,396.17 113.20,398.10 113.83,400.06 114.45,402.06 115.08,404.09 115.70,406.16 116.33,408.26 116.95,410.41 117.57,412.59 118.20,414.81 118.82,417.06 119.45,419.36 120.07,421.70 120.70,424.08 121.32,426.51 121.94,428.97 122.57,431.48 123.19,434.03 123.82,436.63 124.44,439.28 125.06,441.97 125.69,444.71 126.31,447.50 126.94,450.34 127.56,453.23 128.19,456.17 128.81,459.16 129.43,462.20 130.06,465.30 130.68,468.45 131.31,471.66 131.93,474.93 132.56,478.26 133.18,481.64 133.80,485.08 134.43,488.59 135.05,492.15 135.68,495.78" fill="none" stroke="#ff4a4a" stroke-opacity="0.33" stroke-width="0.55"/>
<polyline points="35.80,292.48 36.63,292.60 37.46,292.72 38.28,292.84 39.11,292.97 39.94,293.10 40.77,293.23 41.59,293.37 42.42,293.51 43.25,293.65 44.08,293.79 44.90,293.94 45.73,294.09 46.56,294.25 47.39,294.41 48.21,294.57 49.04,294.74 49.87,294.91 50.70,295.09 51.52,295.27 52.35,295.45 53.18,295.64 54.01,295.83 54.83,296.03 55.66,296.23 56.49,296.44 57.32,296.65 58.14,296.86 58.97,297.08 59.80,297.31 60.63,297.54 61.45,297.78 62.28,298.02 63.11,298.27 63.94,298.53 64.77,298.79 65.59,299.05 66.42,299.33 67.25,299.61 68.08,299.89 68.90,300.19 69.73,300.48 70.56,300.79 71.39,301.11 72.21,301.43 73.04,301.76 73.87,302.09 74.70,302.44 75.52,302.79 76.35,303.15 77.18,303.52 78.01,303.90 78.83,304.29 79.66,304.68 80.49,305.09 81.32,305.50 82.14,305.93 82.97,306.36 83.80,306.81 84.63,307.26 85.45,307.73 86.28,308.21 87.11,308.70 87.94,309.20 88.76,309.71 89.59,310.23 90.42,310.77 91.25,311.32 92.08,311.88 92.90,312.46 93.73,313.05 94.56,313.65 95.39,314.27 96.21,314.90 97.04,315.55 97.87,316.21 98.70,316.88 99.52,317.58 100.35,318.29 101.18,319.01 102.01,319.76 102.83,320.52 103.66,321.30 104.49,322.10 105.32,322.91 106.14,323.75 106.97,324.60 107.80,325.48 108.63,326.37 109.45,327.29 110.28,328.23 111.11,329.19 111.94,330.18 112.76,331.18 113.59,332.21 114.42,333.27 115.25,334.35 116.08,335.45 116.90,336.58 117.73,337.74 118.56,338.93 119.39,340.14 120.21,341.38 121.04,342.65 121.87,343.95 122.70,345.29 123.52,346.65 124.35,348.04 125.18,349.47 126.01,350.93 126.83,352.43 127.66,353.96 128.49,355.53 129.32,357.14 130.14,358.78 130.97,360.46 131.80,362.18 132.63,363.94 133.45,365.74 134.28,367.59 135.11,369.48 135.94,371.41 136.76,373.39 137.59,375.42 138.42,377.49 139.25,379.61 140.07,381.79 140.90,384.01 141.73,386.29 142.56,388.62 143.39,391.00 144.21,393.44 145.04,395.94 145.87,398.50 146.70,401.12 147.52,403.80 148.35,406.54 149.18,409.35 150.01,412.22 150.83,415.16 151.66,418.17 152.49,421.26 153.32,424.41 154.14,427.64 154.97,430.94 155.80,434.33 156.63,437.79 157.45,441.33 158.28,444.96 159.11,448.68 159.94,452.48 160.76,456.37 161.59,460.35 162.42,464.43 163.25,468.60 164.07,472.87 164.90,477.24 165.73,481.72 166.56,486.30 167.38,490.99 168.21,495.78" fill="none" stroke="#ff4a4a" stroke-opacity="0.33" stroke-width="0.55"/>
<polyline points="35.80,289.98 36.78,290.05 37.76,290.12 38.74,290.20 39.73,290.27 40.71,290.35 41.69,290.43 42.67,290.51 43.65,290.60 44.63,290.69 45.61,290.78 46.60,290.87 47.58,290.96 48.56,291.06 49.54,291.16 50.52,291.26 51.50,291.37 52.48,291.48 53.47,291.59 54.45,291.71 55.43,291.83 56.41,291.95 57.39,292.07 58.37,292.20 59.35,292.33 60.34,292.47 61.32,292.61 62.30,292.75 63.28,292.90 64.26,293.05 65.24,293.21 66.22,293.37 67.20,293.53 68.19,293.70 69.17,293.88 70.15,294.06 71.13,294.24 72.11,294.43 73.09,294.63 74.07,294.83 75.06,295.03 76.04,295.25 77.02,295.46 78.00,295.69 78.98,295.92 79.96,296.15 80.94,296.40 81.93,296.65 82.91,296.90 83.89,297.17 84.87,297.44 85.85,297.72 86.83,298.01 87.81,298.30 88.80,298.60 89.78,298.92 90.76,299.24 91.74,299.57 92.72,299.90 93.70,300.25 94.68,300.61 95.67,300.98 96.65,301.36 97.63,301.75 98.61,302.15 99.59,302.56 100.57,302.98 101.55,303.41 102.54,303.86 103.52,304.32 104.50,304.79 105.48,305.28 106.46,305.78 107.44,306.29 108.42,306.82 109.41,307.36 110.39,307.91 111.37,308.49 112.35,309.08 113.33,309.68 114.31,310.30 115.29,310.94 116.28,311.60 117.26,312.28 118.24,312.97 119.22,313.69 120.20,314.42 121.18,315.18 122.16,315.95 123.14,316.75 124.13,317.57 125.11,318.41 126.09,319.28 127.07,320.17 128.05,321.09 129.03,322.03 130.01,323.00 131.00,323.99 131.98,325.02 132.96,326.07 133.94,327.15 134.92,328.26 135.90,329.41 136.88,330.58 137.87,331.79 138.85,333.03 139.83,334.31 140.81,335.62 141.79,336.97 142.77,338.36 143.75,339.78 144.74,341.25 145.72,342.75 146.70,344.30 147.68,345.90 148.66,347.53 149.64,349.22 150.62,350.95 151.61,352.72 152.59,354.55 153.57,356.43 154.55,358.36 155.53,360.35 156.51,362.39 157.49,364.49 158.48,366.65 159.46,368.87 160.44,371.15 161.42,373.50 162.40,375.91 163.38,378.39 164.36,380.93 165.35,383.55 166.33,386.24 167.31,389.01 168.29,391.86 169.27,394.78 170.25,397.79 171.23,400.88 172.22,404.06 173.20,407.33 174.18,410.69 175.16,414.14 176.14,417.69 177.12,421.34 178.10,425.09 179.09,428.94 180.07,432.91 181.05,436.98 182.03,441.17 183.01,445.48 183.99,449.91 184.97,454.46 185.95,459.14 186.94,463.95 187.92,468.90 188.90,473.98 189.88,479.21 190.86,484.58 191.84,490.11 192.82,495.78" fill="none" stroke="#ff3030" stroke-opacity="0.74" stroke-width="0.7"/>
<polyline points="35.80,288.73 36.94,288.77 38.07,288.81 39.21,288.85 40.34,288.90 41.48,288.95 42.61,288.99 43.75,289.04 44.88,289.09 46.02,289.15 47.15,289.20 48.29,289.26 49.42,289.31 50.56,289.37 51.69,289.43 52.83,289.50 53.96,289.56 55.10,289.63 56.23,289.70 57.37,289.77 58.50,289.85 59.64,289.93 60.78,290.00 61.91,290.09 63.05,290.17 64.18,290.26 65.32,290.35 66.45,290.44 67.59,290.54 68.72,290.64 69.86,290.74 70.99,290.85 72.13,290.96 73.26,291.07 74.40,291.19 75.53,291.31 76.67,291.43 77.80,291.56 78.94,291.69 80.07,291.83 81.21,291.97 82.34,292.12 83.48,292.27 84.61,292.42 85.75,292.58 86.89,292.75 88.02,292.92 89.16,293.10 90.29,293.28 91.43,293.47 92.56,293.66 93.70,293.86 94.83,294.07 95.97,294.29 97.10,294.51 98.24,294.74 99.37,294.97 100.51,295.21 101.64,295.47 102.78,295.73 103.91,295.99 105.05,296.27 106.18,296.56 107.32,296.85 108.45,297.16 109.59,297.47 110.73,297.79 111.86,298.13 113.00,298.48 114.13,298.83 115.27,299.20 116.40,299.58 117.54,299.98 118.67,300.38 119.81,300.80 120.94,301.23 122.08,301.68 123.21,302.14 124.35,302.62 125.48,303.11 126.62,303.62 127.75,304.14 128.89,304.68 130.02,305.24 131.16,305.82 132.29,306.42 133.43,307.03 134.57,307.67 135.70,308.32 136.84,309.00 137.97,309.70 139.11,310.42 140.24,311.17 141.38,311.94 142.51,312.73 143.65,313.55 144.78,314.40 145.92,315.27 147.05,316.17 148.19,317.11 149.32,318.07 150.46,319.06 151.59,320.09 152.73,321.15 153.86,322.24 155.00,323.37 156.13,324.54 157.27,325.74 158.40,326.99 159.54,328.27 160.68,329.59 161.81,330.96 162.95,332.38 164.08,333.83 165.22,335.34 166.35,336.90 167.49,338.50 168.62,340.16 169.76,341.87 170.89,343.64 172.03,345.46 173.16,347.35 174.30,349.29 175.43,351.30 176.57,353.37 177.70,355.51 178.84,357.72 179.97,360.01 181.11,362.36 182.24,364.79 183.38,367.31 184.52,369.90 185.65,372.58 186.79,375.34 187.92,378.20 189.06,381.14 190.19,384.19 191.33,387.33 192.46,390.57 193.60,393.92 194.73,397.38 195.87,400.95 197.00,404.64 198.14,408.44 199.27,412.37 200.41,416.43 201.54,420.62 202.68,424.95 203.81,429.41 204.95,434.02 206.08,438.78 207.22,443.70 208.36,448.77 209.49,454.01 210.63,459.42 211.76,465.01 212.90,470.78 214.03,476.73 215.17,482.88 216.30,489.23 217.44,495.78" fill="none" stroke="#ff4a4a" stroke-opacity="0.33" stroke-width="0.55"/>
<polyline points="35.80,287.98 37.14,288.00 38.48,288.02 39.82,288.04 41.15,288.06 42.49,288.08 43.83,288.11 45.17,288.13 46.51,288.15 47.85,288.18 49.19,288.21 50.52,288.24 51.86,288.26 53.20,288.29 54.54,288.33 55.88,288.36 57.22,288.39 58.56,288.43 59.89,288.46 61.23,288.50 62.57,288.54 63.91,288.58 65.25,288.62 66.59,288.67 67.93,288.71 69.26,288.76 70.60,288.81 71.94,288.86 73.28,288.92 74.62,288.97 75.96,289.03 77.30,289.09 78.63,289.15 79.97,289.21 81.31,289.28 82.65,289.35 83.99,289.42 85.33,289.50 86.67,289.57 88.00,289.65 89.34,289.74 90.68,289.82 92.02,289.91 93.36,290.01 94.70,290.11 96.04,290.21 97.37,290.31 98.71,290.42 100.05,290.53 101.39,290.65 102.73,290.77 104.07,290.90 105.41,291.03 106.74,291.17 108.08,291.31 109.42,291.46 110.76,291.61 112.10,291.77 113.44,291.93 114.78,292.10 116.11,292.28 117.45,292.47 118.79,292.66 120.13,292.86 121.47,293.06 122.81,293.28 124.15,293.50 125.48,293.73 126.82,293.97 128.16,294.22 129.50,294.48 130.84,294.75 132.18,295.03 133.52,295.32 134.85,295.62 136.19,295.93 137.53,296.26 138.87,296.59 140.21,296.94 141.55,297.31 142.89,297.69 144.22,298.08 145.56,298.49 146.90,298.91 148.24,299.35 149.58,299.80 150.92,300.28 152.26,300.77 153.59,301.28 154.93,301.81 156.27,302.36 157.61,302.93 158.95,303.53 160.29,304.14 161.63,304.78 162.96,305.45 164.30,306.14 165.64,306.85 166.98,307.60 168.32,308.37 169.66,309.17 171.00,310.01 172.33,310.87 173.67,311.77 175.01,312.70 176.35,313.67 177.69,314.68 179.03,315.73 180.37,316.81 181.70,317.94 183.04,319.11 184.38,320.32 185.72,321.58 187.06,322.90 188.40,324.26 189.74,325.67 191.08,327.14 192.41,328.66 193.75,330.24 195.09,331.88 196.43,333.59 197.77,335.36 199.11,337.20 200.45,339.11 201.78,341.10 203.12,343.16 204.46,345.29 205.80,347.52 207.14,349.82 208.48,352.22 209.82,354.70 211.15,357.29 212.49,359.97 213.83,362.75 215.17,365.65 216.51,368.65 217.85,371.77 219.19,375.01 220.52,378.37 221.86,381.86 223.20,385.49 224.54,389.25 225.88,393.16 227.22,397.22 228.56,401.44 229.89,405.82 231.23,410.36 232.57,415.08 233.91,419.98 235.25,425.08 236.59,430.36 237.93,435.85 239.26,441.55 240.60,447.47 241.94,453.62 243.28,460.00 244.62,466.63 245.96,473.51 247.30,480.66 248.63,488.08 249.97,495.78" fill="none" stroke="#ff4a4a" stroke-opacity="0.33" stroke-width="0.55"/>
<polyline points="35.80,287.73 37.29,287.74 38.78,287.75 40.28,287.76 41.77,287.77 43.26,287.79 44.75,287.80 46.25,287.81 47.74,287.83 49.23,287.84 50.72,287.86 52.22,287.87 53.71,287.89 55.20,287.91 56.69,287.93 58.19,287.95 59.68,287.97 61.17,287.99 62.66,288.01 64.16,288.03 65.65,288.06 67.14,288.08 68.63,288.11 70.13,288.14 71.62,288.16 73.11,288.19 74.60,288.22 76.09,288.26 77.59,288.29 79.08,288.32 80.57,288.36 82.06,288.40 83.56,288.44 85.05,288.48 86.54,288.52 88.03,288.57 89.53,288.61 91.02,288.66 92.51,288.71 94.00,288.77 95.50,288.82 96.99,288.88 98.48,288.94 99.97,289.00 101.47,289.07 102.96,289.14 104.45,289.21 105.94,289.28 107.44,289.36 108.93,289.44 110.42,289.52 111.91,289.61 113.41,289.70 114.90,289.80 116.39,289.90 117.88,290.00 119.37,290.11 120.87,290.22 122.36,290.34 123.85,290.46 125.34,290.59 126.84,290.73 128.33,290.87 129.82,291.01 131.31,291.16 132.81,291.32 134.30,291.49 135.79,291.66 137.28,291.84 138.78,292.02 140.27,292.22 141.76,292.42 143.25,292.63 144.75,292.86 146.24,293.09 147.73,293.33 149.22,293.58 150.72,293.84 152.21,294.11 153.70,294.40 155.19,294.70 156.68,295.01 158.18,295.33 159.67,295.67 161.16,296.02 162.65,296.38 164.15,296.77 165.64,297.17 167.13,297.58 168.62,298.01 170.12,298.47 171.61,298.94 173.10,299.43 174.59,299.94 176.09,300.48 177.58,301.04 179.07,301.62 180.56,302.23 182.06,302.86 183.55,303.52 185.04,304.21 186.53,304.93 188.03,305.67 189.52,306.46 191.01,307.27 192.50,308.12 193.99,309.01 195.49,309.93 196.98,310.89 198.47,311.90 199.96,312.95 201.46,314.04 202.95,315.18 204.44,316.37 205.93,317.61 207.43,318.90 208.92,320.25 210.41,321.66 211.90,323.13 213.40,324.66 214.89,326.25 216.38,327.92 217.87,329.65 219.37,331.46 220.86,333.35 222.35,335.32 223.84,337.38 225.34,339.52 226.83,341.75 228.32,344.08 229.81,346.51 231.30,349.05 232.80,351.69 234.29,354.44 235.78,357.32 237.27,360.32 238.77,363.44 240.26,366.70 241.75,370.11 243.24,373.65 244.74,377.35 246.23,381.21 247.72,385.23 249.21,389.43 250.71,393.81 252.20,398.37 253.69,403.13 255.18,408.09 256.68,413.27 258.17,418.67 259.66,424.30 261.15,430.18 262.65,436.30 264.14,442.69 265.63,449.35 267.12,456.30 268.62,463.55 270.11,471.11 271.60,478.99 273.09,487.21 274.58,495.78" fill="none" stroke="#ff3030" stroke-opacity="0.74" stroke-width="0.7"/>
<polyline points="35.80,287.60 37.45,287.61 39.09,287.62 40.74,287.62 42.38,287.63 44.03,287.64 45.68,287.64 47.32,287.65 48.97,287.66 50.62,287.67 52.26,287.68 53.91,287.69 55.55,287.70 57.20,287.71 58.85,287.72 60.49,287.73 62.14,287.74 63.79,287.75 65.43,287.77 67.08,287.78 68.72,287.79 70.37,287.81 72.02,287.82 73.66,287.84 75.31,287.86 76.96,287.88 78.60,287.90 80.25,287.92 81.89,287.94 83.54,287.96 85.19,287.98 86.83,288.00 88.48,288.03 90.13,288.06 91.77,288.08 93.42,288.11 95.06,288.14 96.71,288.17 98.36,288.21 100.00,288.24 101.65,288.28 103.30,288.31 104.94,288.35 106.59,288.40 108.23,288.44 109.88,288.49 111.53,288.53 113.17,288.58 114.82,288.64 116.47,288.69 118.11,288.75 119.76,288.81 121.40,288.87 123.05,288.94 124.70,289.01 126.34,289.08 127.99,289.16 129.64,289.23 131.28,289.32 132.93,289.41 134.57,289.50 136.22,289.59 137.87,289.69 139.51,289.80 141.16,289.91 142.80,290.02 144.45,290.14 146.10,290.27 147.74,290.40 149.39,290.54 151.04,290.69 152.68,290.84 154.33,291.00 155.97,291.17 157.62,291.34 159.27,291.53 160.91,291.72 162.56,291.92 164.21,292.13 165.85,292.35 167.50,292.58 169.14,292.82 170.79,293.08 172.44,293.34 174.08,293.62 175.73,293.91 177.38,294.22 179.02,294.54 180.67,294.87 182.31,295.22 183.96,295.59 185.61,295.98 187.25,296.38 188.90,296.80 190.55,297.25 192.19,297.71 193.84,298.19 195.48,298.70 197.13,299.24 198.78,299.79 200.42,300.38 202.07,300.99 203.72,301.63 205.36,302.30 207.01,303.01 208.65,303.74 210.30,304.52 211.95,305.32 213.59,306.17 215.24,307.06 216.89,307.99 218.53,308.96 220.18,309.98 221.82,311.05 223.47,312.17 225.12,313.34 226.76,314.57 228.41,315.85 230.06,317.20 231.70,318.61 233.35,320.08 234.99,321.63 236.64,323.25 238.29,324.95 239.93,326.73 241.58,328.59 243.23,330.54 244.87,332.59 246.52,334.73 248.16,336.97 249.81,339.32 251.46,341.78 253.10,344.35 254.75,347.05 256.39,349.88 258.04,352.84 259.69,355.94 261.33,359.19 262.98,362.59 264.63,366.16 266.27,369.89 267.92,373.80 269.56,377.90 271.21,382.19 272.86,386.69 274.50,391.39 276.15,396.32 277.80,401.49 279.44,406.90 281.09,412.57 282.73,418.50 284.38,424.72 286.03,431.23 287.67,438.05 289.32,445.20 290.97,452.68 292.61,460.52 294.26,468.74 295.90,477.34 297.55,486.35 299.20,495.78" fill="none" stroke="#ff4a4a" stroke-opacity="0.33" stroke-width="0.55"/>
<polyline points="35.80,287.53 37.65,287.53 39.50,287.53 41.35,287.54 43.20,287.54 45.05,287.54 46.90,287.55 48.75,287.55 50.60,287.55 52.45,287.56 54.30,287.56 56.15,287.57 57.99,287.57 59.84,287.58 61.69,287.58 63.54,287.59 65.39,287.59 67.24,287.60 69.09,287.61 70.94,287.61 72.79,287.62 74.64,287.63 76.49,287.64 78.34,287.64 80.19,287.65 82.04,287.66 83.89,287.67 85.74,287.68 87.59,287.69 89.44,287.70 91.29,287.72 93.14,287.73 94.99,287.74 96.84,287.76 98.69,287.77 100.54,287.79 102.38,287.80 104.23,287.82 106.08,287.84 107.93,287.86 109.78,287.88 111.63,287.90 113.48,287.92 115.33,287.95 117.18,287.97 119.03,288.00 120.88,288.03 122.73,288.06 124.58,288.09 126.43,288.12 128.28,288.15 130.13,288.19 131.98,288.23 133.83,288.27 135.68,288.31 137.53,288.36 139.38,288.40 141.23,288.45 143.08,288.50 144.93,288.56 146.77,288.62 148.62,288.68 150.47,288.74 152.32,288.81 154.17,288.88 156.02,288.96 157.87,289.03 159.72,289.12 161.57,289.21 163.42,289.30 165.27,289.40 167.12,289.50 168.97,289.61 170.82,289.72 172.67,289.84 174.52,289.97 176.37,290.10 178.22,290.24 180.07,290.39 181.92,290.54 183.77,290.71 185.62,290.88 187.47,291.06 189.31,291.25 191.16,291.45 193.01,291.67 194.86,291.89 196.71,292.13 198.56,292.37 200.41,292.64 202.26,292.91 204.11,293.20 205.96,293.51 207.81,293.83 209.66,294.17 211.51,294.53 213.36,294.91 215.21,295.30 217.06,295.72 218.91,296.16 220.76,296.63 222.61,297.12 224.46,297.63 226.31,298.17 228.16,298.75 230.01,299.35 231.86,299.98 233.70,300.65 235.55,301.36 237.40,302.10 239.25,302.88 241.10,303.70 242.95,304.57 244.80,305.49 246.65,306.45 248.50,307.46 250.35,308.53 252.20,309.66 254.05,310.84 255.90,312.09 257.75,313.41 259.60,314.80 261.45,316.26 263.30,317.79 265.15,319.42 267.00,321.12 268.85,322.92 270.70,324.82 272.55,326.81 274.40,328.92 276.25,331.13 278.09,333.47 279.94,335.93 281.79,338.52 283.64,341.25 285.49,344.12 287.34,347.15 289.19,350.34 291.04,353.70 292.89,357.24 294.74,360.97 296.59,364.90 298.44,369.04 300.29,373.40 302.14,378.00 303.99,382.84 305.84,387.94 307.69,393.31 309.54,398.97 311.39,404.93 313.24,411.21 315.09,417.83 316.94,424.80 318.79,432.14 320.64,439.87 322.48,448.02 324.33,456.61 326.18,465.65 328.03,475.18 329.88,485.21 331.73,495.78" fill="none" stroke="#ff4a4a" stroke-opacity="0.33" stroke-width="0.55"/>
<polyline points="35.80,287.50 37.80,287.50 39.81,287.51 41.81,287.51 43.81,287.51 45.82,287.51 47.82,287.51 49.82,287.51 51.83,287.52 53.83,287.52 55.83,287.52 57.84,287.52 59.84,287.53 61.84,287.53 63.85,287.53 65.85,287.54 67.85,287.54 69.86,287.54 71.86,287.55 73.86,287.55 75.87,287.56 77.87,287.56 79.87,287.56 81.88,287.57 83.88,287.57 85.89,287.58 87.89,287.59 89.89,287.59 91.90,287.60 93.90,287.61 95.90,287.61 97.91,287.62 99.91,287.63 101.91,287.64 103.92,287.65 105.92,287.66 107.92,287.67 109.93,287.68 111.93,287.69 113.93,287.70 115.94,287.72 117.94,287.73 119.94,287.75 121.95,287.76 123.95,287.78 125.95,287.79 127.96,287.81 129.96,287.83 131.96,287.85 133.97,287.87 135.97,287.90 137.97,287.92 139.98,287.95 141.98,287.98 143.98,288.00 145.99,288.03 147.99,288.07 149.99,288.10 152.00,288.14 154.00,288.18 156.00,288.22 158.01,288.26 160.01,288.30 162.01,288.35 164.02,288.40 166.02,288.46 168.02,288.51 170.03,288.57 172.03,288.64 174.03,288.70 176.04,288.78 178.04,288.85 180.05,288.93 182.05,289.02 184.05,289.10 186.06,289.20 188.06,289.30 190.06,289.40 192.07,289.52 194.07,289.64 196.07,289.76 198.08,289.89 200.08,290.03 202.08,290.18 204.09,290.34 206.09,290.50 208.09,290.68 210.10,290.87 212.10,291.06 214.10,291.27 216.11,291.49 218.11,291.72 220.11,291.97 222.12,292.23 224.12,292.51 226.12,292.80 228.13,293.11 230.13,293.43 232.13,293.78 234.14,294.15 236.14,294.53 238.14,294.94 240.15,295.38 242.15,295.83 244.15,296.32 246.16,296.83 248.16,297.38 250.16,297.95 252.17,298.56 254.17,299.20 256.17,299.88 258.18,300.60 260.18,301.36 262.18,302.17 264.19,303.02 266.19,303.92 268.19,304.88 270.20,305.89 272.20,306.96 274.21,308.09 276.21,309.28 278.21,310.55 280.22,311.89 282.22,313.30 284.22,314.80 286.23,316.39 288.23,318.07 290.23,319.84 292.24,321.72 294.24,323.71 296.24,325.81 298.25,328.04 300.25,330.39 302.25,332.88 304.26,335.52 306.26,338.31 308.26,341.26 310.27,344.38 312.27,347.68 314.27,351.18 316.28,354.87 318.28,358.79 320.28,362.92 322.29,367.30 324.29,371.94 326.29,376.84 328.30,382.03 330.30,387.51 332.30,393.32 334.31,399.46 336.31,405.96 338.31,412.84 340.32,420.12 342.32,427.82 344.32,435.96 346.33,444.58 348.33,453.70 350.33,463.35 352.34,473.56 354.34,484.36 356.34,495.78" fill="none" stroke="#ff3030" stroke-opacity="0.74" stroke-width="0.7"/>
<line x1="35.8" x2="359.6" y1="287.10" y2="287.10" stroke="#111" stroke-width="0.9" stroke-dasharray="3.0 1.3"/>
<line x1="35.8" x2="359.6" y1="312.36" y2="312.36" stroke="#333" stroke-width="0.7" stroke-dasharray="3.0 1.3"/>
</g>
<polyline points="122.75,345.38 137.13,330.87 153.48,321.87 183.89,319.87 206.81,318.37 229.96,317.12 261.28,316.12 284.95,315.37" fill="none" stroke="#ba55d3" stroke-width="0.8" stroke-linejoin="round"/>
<polyline points="65.66,316.49 86.95,308.86 104.07,304.99 121.79,301.48 144.97,298.23 163.09,296.48 180.90,294.73 204.09,293.11 222.10,292.23" fill="none" stroke="#4682b4" stroke-width="0.9" stroke-linejoin="round"/>
<circle cx="65.66" cy="316.49" r="1.55" fill="#4682b4"/>
<circle cx="86.95" cy="308.86" r="1.55" fill="#4682b4"/>
<circle cx="104.07" cy="304.99" r="1.55" fill="#4682b4"/>
<circle cx="121.79" cy="301.48" r="1.55" fill="#4682b4"/>
<circle cx="144.97" cy="298.23" r="1.55" fill="#4682b4"/>
<circle cx="163.09" cy="296.48" r="1.55" fill="#4682b4"/>
<circle cx="180.90" cy="294.73" r="1.55" fill="#4682b4"/>
<circle cx="204.09" cy="293.11" r="1.55" fill="#4682b4"/>
<circle cx="222.10" cy="292.23" r="1.55" fill="#4682b4"/>
<polyline points="69.14,319.62 92.53,312.11 114.52,310.61 131.14,305.74 157.91,303.11 169.75,298.36 189.96,296.98 219.31,296.23 249.17,297.48" fill="none" stroke="#111" stroke-width="0.8" stroke-dasharray="3.0 1.3" stroke-linejoin="round"/>
<polyline points="84.49,336.75 112.20,330.50" fill="none" stroke="#111" stroke-width="0.8" stroke-dasharray="3.0 1.3" stroke-linejoin="round"/>
<path d="M68.09 318.57L70.19 320.67M68.09 320.67L70.19 318.57" stroke="#000" stroke-width="0.8" fill="none"/>
<path d="M91.48 311.06L93.58 313.16M91.48 313.16L93.58 311.06" stroke="#000" stroke-width="0.8" fill="none"/>
<path d="M113.47 309.56L115.57 311.66M113.47 311.66L115.57 309.56" stroke="#000" stroke-width="0.8" fill="none"/>
<path d="M130.09 304.69L132.19 306.79M130.09 306.79L132.19 304.69" stroke="#000" stroke-width="0.8" fill="none"/>
<path d="M156.86 302.06L158.96 304.16M156.86 304.16L158.96 302.06" stroke="#000" stroke-width="0.8" fill="none"/>
<path d="M168.70 297.31L170.80 299.41M168.70 299.41L170.80 297.31" stroke="#000" stroke-width="0.8" fill="none"/>
<path d="M188.91 295.93L191.01 298.03M188.91 298.03L191.01 295.93" stroke="#000" stroke-width="0.8" fill="none"/>
<path d="M218.26 295.18L220.36 297.28M218.26 297.28L220.36 295.18" stroke="#000" stroke-width="0.8" fill="none"/>
<path d="M248.12 296.43L250.22 298.53M248.12 298.53L250.22 296.43" stroke="#000" stroke-width="0.8" fill="none"/>
<path d="M83.44 335.70L85.54 337.80M83.44 337.80L85.54 335.70" stroke="#000" stroke-width="0.8" fill="none"/>
<path d="M111.15 329.45L113.25 331.55M111.15 331.55L113.25 329.45" stroke="#000" stroke-width="0.8" fill="none"/>
<path d="M106.15 379.85L108.25 381.95M106.15 381.95L108.25 379.85" stroke="#000" stroke-width="0.8" fill="none"/>
<rect x="35.8" y="281.6" width="323.8" height="210.09999999999997" fill="none" stroke="#727272" stroke-width="0.9"/>
<line x1="33.0" x2="35.8" y1="491.70" y2="491.70" stroke="#555" stroke-width="0.5"/>
<text x="32.10" y="494.35" text-anchor="end" font-size="7.4" fill="#222" stroke="#222" stroke-width="0.15">0</text>
<line x1="33.0" x2="35.8" y1="466.69" y2="466.69" stroke="#555" stroke-width="0.5"/>
<text x="32.10" y="469.34" text-anchor="end" font-size="7.4" fill="#222" stroke="#222" stroke-width="0.15">100</text>
<line x1="33.0" x2="35.8" y1="441.68" y2="441.68" stroke="#555" stroke-width="0.5"/>
<text x="32.10" y="444.33" text-anchor="end" font-size="7.4" fill="#222" stroke="#222" stroke-width="0.15">200</text>
<line x1="33.0" x2="35.8" y1="416.66" y2="416.66" stroke="#555" stroke-width="0.5"/>
<text x="32.10" y="419.31" text-anchor="end" font-size="7.4" fill="#222" stroke="#222" stroke-width="0.15">300</text>
<line x1="33.0" x2="35.8" y1="391.65" y2="391.65" stroke="#555" stroke-width="0.5"/>
<text x="32.10" y="394.30" text-anchor="end" font-size="7.4" fill="#222" stroke="#222" stroke-width="0.15">400</text>
<line x1="33.0" x2="35.8" y1="366.64" y2="366.64" stroke="#555" stroke-width="0.5"/>
<text x="32.10" y="369.29" text-anchor="end" font-size="7.4" fill="#222" stroke="#222" stroke-width="0.15">500</text>
<line x1="33.0" x2="35.8" y1="341.63" y2="341.63" stroke="#555" stroke-width="0.5"/>
<text x="32.10" y="344.28" text-anchor="end" font-size="7.4" fill="#222" stroke="#222" stroke-width="0.15">600</text>
<line x1="33.0" x2="35.8" y1="316.62" y2="316.62" stroke="#555" stroke-width="0.5"/>
<text x="32.10" y="319.27" text-anchor="end" font-size="7.4" fill="#222" stroke="#222" stroke-width="0.15">700</text>
<line x1="33.0" x2="35.8" y1="291.60" y2="291.60" stroke="#555" stroke-width="0.5"/>
<text x="32.10" y="294.25" text-anchor="end" font-size="7.4" fill="#222" stroke="#222" stroke-width="0.15">800</text>
<line x1="35.80" x2="35.80" y1="491.7" y2="494.5" stroke="#555" stroke-width="0.5"/>
<text x="35.90" y="501.90" text-anchor="middle" font-size="7.5" fill="#222" stroke="#222" stroke-width="0.15">10<tspan dy="-2.9" font-size="5.2">0</tspan></text>
<line x1="60.41" x2="60.41" y1="491.7" y2="493.2" stroke="#555" stroke-width="0.45"/>
<line x1="74.81" x2="74.81" y1="491.7" y2="493.2" stroke="#555" stroke-width="0.45"/>
<line x1="85.02" x2="85.02" y1="491.7" y2="493.2" stroke="#555" stroke-width="0.45"/>
<line x1="92.95" x2="92.95" y1="491.7" y2="493.2" stroke="#555" stroke-width="0.45"/>
<line x1="99.42" x2="99.42" y1="491.7" y2="493.2" stroke="#555" stroke-width="0.45"/>
<line x1="104.90" x2="104.90" y1="491.7" y2="493.2" stroke="#555" stroke-width="0.45"/>
<line x1="109.64" x2="109.64" y1="491.7" y2="493.2" stroke="#555" stroke-width="0.45"/>
<line x1="113.82" x2="113.82" y1="491.7" y2="493.2" stroke="#555" stroke-width="0.45"/>
<line x1="117.56" x2="117.56" y1="491.7" y2="494.5" stroke="#555" stroke-width="0.5"/>
<text x="117.66" y="501.90" text-anchor="middle" font-size="7.5" fill="#222" stroke="#222" stroke-width="0.15">10<tspan dy="-2.9" font-size="5.2">1</tspan></text>
<line x1="142.17" x2="142.17" y1="491.7" y2="493.2" stroke="#555" stroke-width="0.45"/>
<line x1="156.57" x2="156.57" y1="491.7" y2="493.2" stroke="#555" stroke-width="0.45"/>
<line x1="166.78" x2="166.78" y1="491.7" y2="493.2" stroke="#555" stroke-width="0.45"/>
<line x1="174.71" x2="174.71" y1="491.7" y2="493.2" stroke="#555" stroke-width="0.45"/>
<line x1="181.18" x2="181.18" y1="491.7" y2="493.2" stroke="#555" stroke-width="0.45"/>
<line x1="186.66" x2="186.66" y1="491.7" y2="493.2" stroke="#555" stroke-width="0.45"/>
<line x1="191.40" x2="191.40" y1="491.7" y2="493.2" stroke="#555" stroke-width="0.45"/>
<line x1="195.58" x2="195.58" y1="491.7" y2="493.2" stroke="#555" stroke-width="0.45"/>
<line x1="199.32" x2="199.32" y1="491.7" y2="494.5" stroke="#555" stroke-width="0.5"/>
<text x="199.42" y="501.90" text-anchor="middle" font-size="7.5" fill="#222" stroke="#222" stroke-width="0.15">10<tspan dy="-2.9" font-size="5.2">2</tspan></text>
<line x1="223.93" x2="223.93" y1="491.7" y2="493.2" stroke="#555" stroke-width="0.45"/>
<line x1="238.33" x2="238.33" y1="491.7" y2="493.2" stroke="#555" stroke-width="0.45"/>
<line x1="248.54" x2="248.54" y1="491.7" y2="493.2" stroke="#555" stroke-width="0.45"/>
<line x1="256.47" x2="256.47" y1="491.7" y2="493.2" stroke="#555" stroke-width="0.45"/>
<line x1="262.94" x2="262.94" y1="491.7" y2="493.2" stroke="#555" stroke-width="0.45"/>
<line x1="268.42" x2="268.42" y1="491.7" y2="493.2" stroke="#555" stroke-width="0.45"/>
<line x1="273.16" x2="273.16" y1="491.7" y2="493.2" stroke="#555" stroke-width="0.45"/>
<line x1="277.34" x2="277.34" y1="491.7" y2="493.2" stroke="#555" stroke-width="0.45"/>
<line x1="281.08" x2="281.08" y1="491.7" y2="494.5" stroke="#555" stroke-width="0.5"/>
<text x="281.18" y="501.90" text-anchor="middle" font-size="7.5" fill="#222" stroke="#222" stroke-width="0.15">10<tspan dy="-2.9" font-size="5.2">3</tspan></text>
<line x1="305.69" x2="305.69" y1="491.7" y2="493.2" stroke="#555" stroke-width="0.45"/>
<line x1="320.09" x2="320.09" y1="491.7" y2="493.2" stroke="#555" stroke-width="0.45"/>
<line x1="330.30" x2="330.30" y1="491.7" y2="493.2" stroke="#555" stroke-width="0.45"/>
<line x1="338.23" x2="338.23" y1="491.7" y2="493.2" stroke="#555" stroke-width="0.45"/>
<line x1="344.70" x2="344.70" y1="491.7" y2="493.2" stroke="#555" stroke-width="0.45"/>
<line x1="350.18" x2="350.18" y1="491.7" y2="493.2" stroke="#555" stroke-width="0.45"/>
<line x1="354.92" x2="354.92" y1="491.7" y2="493.2" stroke="#555" stroke-width="0.45"/>
<line x1="359.10" x2="359.10" y1="491.7" y2="493.2" stroke="#555" stroke-width="0.45"/>
<text x="197.70" y="513.10" text-anchor="middle" font-size="8.7" fill="#222" stroke="#222" stroke-width="0.15">Time (s)</text>
<text transform="translate(13.6 386.65) rotate(-90)" text-anchor="middle" font-size="8.7" fill="#222" stroke="#222" stroke-width="0.15">Temperature (°C)</text>
<rect x="275.64" y="282.9026190476191" width="43.19" height="10.80" rx="0" fill="#fff" stroke="#2a2a2a" stroke-width="0.75"/>
<text x="297.24" y="290.82" text-anchor="middle" font-size="7.0" fill="#111" stroke="#111" stroke-width="0.1"><tspan font-style="italic">Ae</tspan><tspan dy="1.6" font-size="5">3</tspan><tspan dy="-1.6">=818°C</tspan></text>
<rect x="300.22" y="307.56464285714287" width="43.20" height="11.40" rx="0" fill="#fff" stroke="#2a2a2a" stroke-width="0.75"/>
<text x="321.82" y="315.78" text-anchor="middle" font-size="7.0" fill="#111" stroke="#111" stroke-width="0.1"><tspan font-style="italic">Ae</tspan><tspan dy="1.6" font-size="5">1</tspan><tspan dy="-1.6">=717°C</tspan></text>
<rect x="177.42" y="478.9" width="23.09" height="10.10" rx="0.8" fill="#fff" stroke="#2a2a2a" stroke-width="0.75"/>
<text x="188.96" y="486.06" text-anchor="middle" font-size="5.85" fill="#111" stroke="#111" stroke-width="0.08">10°C/s</text>
<rect x="259.32" y="478.9" width="19.21" height="10.10" rx="0.8" fill="#fff" stroke="#2a2a2a" stroke-width="0.75"/>
<text x="268.92" y="486.06" text-anchor="middle" font-size="5.85" fill="#111" stroke="#111" stroke-width="0.08">1°C/s</text>
<rect x="341.43" y="478.9" width="24.68" height="10.10" rx="0.8" fill="#fff" stroke="#2a2a2a" stroke-width="0.75"/>
<text x="353.77" y="486.06" text-anchor="middle" font-size="5.85" fill="#111" stroke="#111" stroke-width="0.08">0.1°C/s</text>
<line x1="70.63" x2="85.36" y1="522.7" y2="522.7" stroke="#111" stroke-width="0.8" stroke-dasharray="3.0 1.3"/>
<path d="M76.95 521.65L79.05 523.75M76.95 523.75L79.05 521.65" stroke="#000" stroke-width="0.8" fill="none"/>
<text x="90.44" y="525.30" font-size="6.9" fill="#222" stroke="#222" stroke-width="0.12">Measured <tspan font-style="italic">T</tspan><tspan dy="1.5" font-size="5" font-style="italic">s</tspan></text>
<rect x="146.37" y="520.20" width="14.2" height="5" fill="#4682b4"/>
<text x="165.47" y="525.30" font-size="7.2" fill="#222" stroke="#222" stroke-width="0.12">f</text>
<rect x="181.8" y="520.20" width="14.2" height="5" fill="#ba55d3"/>
<text x="200.90" y="525.30" font-size="7.2" fill="#222" stroke="#222" stroke-width="0.12">p</text>
<rect x="218.12" y="520.20" width="14.2" height="5" fill="#f4a460"/>
<text x="237.23" y="525.30" font-size="7.2" fill="#222" stroke="#222" stroke-width="0.12">bu</text>
<rect x="259.12" y="520.20" width="14.2" height="5" fill="#d2691e"/>
<text x="278.23" y="525.30" font-size="7.2" fill="#222" stroke="#222" stroke-width="0.12">bl</text>
<rect x="297.84" y="520.20" width="14.2" height="5" fill="#3cb371"/>
<text x="316.94" y="525.30" font-size="7.2" fill="#222" stroke="#222" stroke-width="0.12">m</text>
<text x="187.0" y="544.30" text-anchor="middle" font-family="'Liberation Serif','DejaVu Serif',serif" font-weight="bold" font-size="16" letter-spacing="-0.55" fill="#151515"><tspan font-weight="normal" stroke="#151515" stroke-width="0.25">(</tspan>b<tspan font-weight="normal" stroke="#151515" stroke-width="0.25">)</tspan></text>
</svg>
</body></html>
